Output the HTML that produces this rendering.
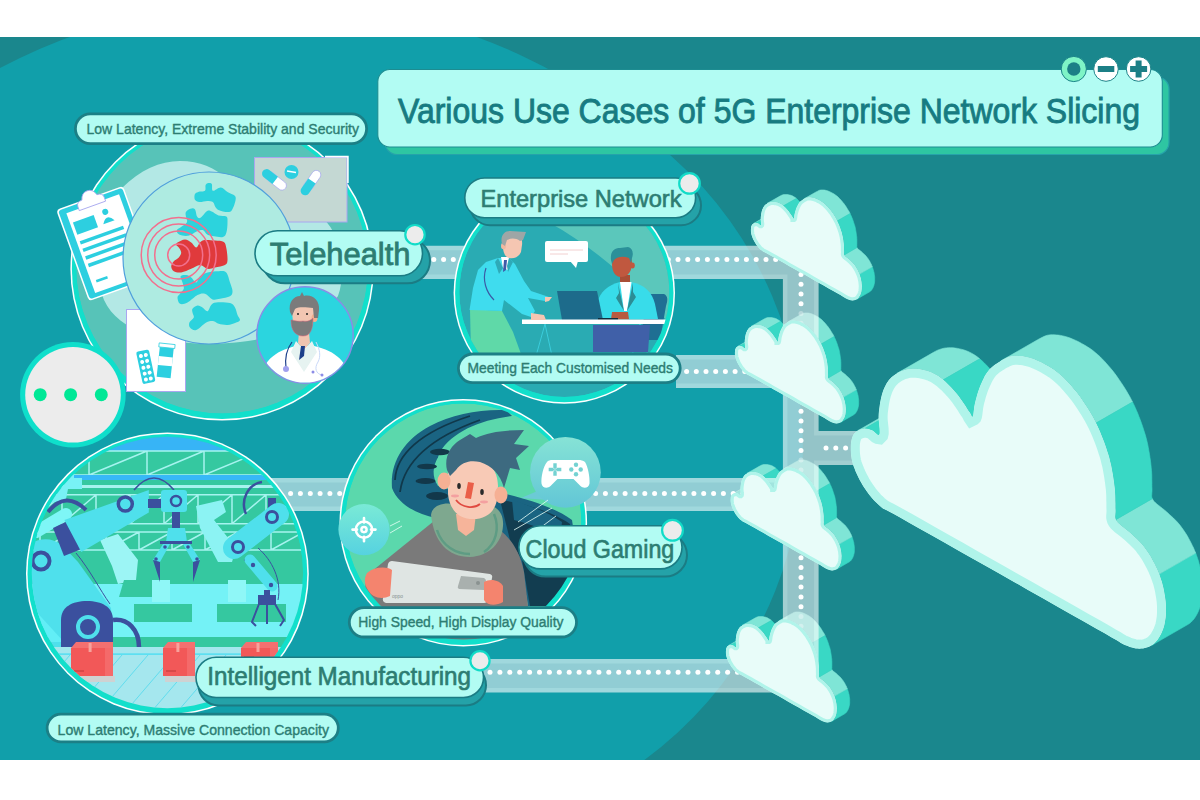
<!DOCTYPE html><html><head><meta charset="utf-8"><title>5G Enterprise Network Slicing</title>
<style>html,body{margin:0;padding:0;background:#fff;overflow:hidden}svg{display:block}text{font-family:"Liberation Sans",sans-serif}</style></head><body>
<svg width="1200" height="800" viewBox="0 0 1200 800">
<defs>
<clipPath id="kth"><circle cx="222.1" cy="267.6" r="145.9"/></clipPath>
<clipPath id="ken"><circle cx="564.3" cy="291.9" r="105.0"/></clipPath>
<clipPath id="kmf"><circle cx="167.4" cy="572.5" r="135.7"/></clipPath>
<clipPath id="kgm"><circle cx="463.3" cy="521.5" r="118.0"/></clipPath>
<linearGradient id="gb" x1="0" y1="0" x2="0" y2="1"><stop offset="0" stop-color="#86e3d6"/><stop offset="1" stop-color="#62c6d6"/></linearGradient>
<linearGradient id="gt" x1="0" y1="0" x2="0" y2="1"><stop offset="0" stop-color="#7aead6"/><stop offset="1" stop-color="#56d2e0"/></linearGradient>
</defs>
<rect x="0" y="37" width="1200" height="723" fill="#1a878d"/>
<path d="M-2 69 L0 68.1 A586.7 586.7 0 0 1 672 156.7 A388 388 0 0 1 644.4 760 L-2 760 Z" fill="#119faa"/>
<polygon fill="#7fe5d6" stroke="#7fe5d6" stroke-width="0.6" points="753.3,223.7 753.7,223.5 754.2,223.3 754.6,223.1 755.0,223.0 755.4,223.0 755.8,222.9 768.7,215.5 768.3,215.6 767.9,215.6 767.5,215.7 767.0,215.9 766.6,216.1 766.1,216.3"/>
<polygon fill="#39d8c5" stroke="#39d8c5" stroke-width="0.6" points="755.8,222.9 756.2,222.9 756.6,223.0 757.0,223.1 757.4,223.2 757.8,223.3 758.2,223.4 758.6,223.6 759.0,223.9 759.4,224.3 759.8,224.7 760.2,225.0 760.5,225.2 760.8,225.2 773.6,217.8 773.3,217.8 773.0,217.6 772.6,217.3 772.2,216.9 771.8,216.5 771.4,216.2 771.0,216.0 770.7,215.9 770.3,215.8 769.9,215.7 769.5,215.6 769.1,215.6 768.7,215.5"/>
<polygon fill="#7fe5d6" stroke="#7fe5d6" stroke-width="0.6" points="767.2,203.4 767.9,203.1 768.6,202.7 769.4,202.4 770.1,202.2 770.9,202.0 771.6,201.9 772.4,201.9 773.2,201.8 774.0,201.9 774.8,202.0 775.6,202.1 776.4,202.2 777.2,202.4 777.9,202.6 778.6,202.9 779.3,203.2 780.0,203.5 780.7,203.9 781.4,204.3 782.1,204.7 782.7,205.2 783.4,205.8 796.3,198.4 795.6,197.8 794.9,197.3 794.2,196.9 793.5,196.5 792.9,196.1 792.2,195.8 791.5,195.5 790.8,195.3 790.0,195.0 789.3,194.9 788.5,194.7 787.7,194.6 786.9,194.5 786.1,194.5 785.3,194.5 784.5,194.5 783.7,194.6 783.0,194.8 782.2,195.0 781.5,195.3 780.7,195.7 780.0,196.1"/>
<polygon fill="#39d8c5" stroke="#39d8c5" stroke-width="0.6" points="783.4,205.8 784.2,206.4 784.9,207.0 785.6,207.7 786.3,208.5 787.0,209.2 787.6,210.0 788.3,210.7 788.9,211.5 789.5,212.4 790.1,213.3 790.7,214.2 791.3,215.0 791.8,215.8 792.3,216.5 792.6,217.1 792.9,217.5 793.2,218.0 793.3,218.3 793.5,218.6 793.6,218.7 793.6,218.8 806.5,211.4 806.4,211.3 806.3,211.2 806.2,210.9 806.0,210.6 805.8,210.2 805.5,209.7 805.1,209.1 804.7,208.4 804.1,207.6 803.6,206.8 803.0,205.9 802.4,205.0 801.8,204.1 801.1,203.3 800.5,202.6 799.8,201.8 799.1,201.1 798.4,200.4 797.7,199.6 797.0,199.0 796.3,198.4"/>
<polygon fill="#7fe5d6" stroke="#7fe5d6" stroke-width="0.6" points="793.6,218.8 793.7,218.8 806.6,211.4 806.5,211.4"/>
<polygon fill="#39d8c5" stroke="#39d8c5" stroke-width="0.6" points="859.4,274.1 859.8,275.0 860.1,275.9 860.4,276.9 860.7,277.8 860.9,278.8 861.1,279.7 861.3,280.7 861.5,281.8 861.6,282.8 861.7,283.8 861.8,284.8 861.9,285.7 861.9,286.7 861.8,287.6 861.8,288.5 861.7,289.4 861.6,290.3 861.5,291.2 861.3,292.0 861.1,292.8 860.8,293.6 860.5,294.4 860.1,295.2 859.7,295.9 859.3,296.6 858.8,297.3 858.4,297.9 857.9,298.4 857.4,298.8 856.8,299.2 869.7,291.8 870.2,291.4 870.7,291.0 871.2,290.5 871.7,289.9 872.1,289.3 872.6,288.5 873.0,287.8 873.3,287.0 873.6,286.2 873.9,285.5 874.1,284.6 874.3,283.8 874.5,282.9 874.6,282.0 874.7,281.1 874.7,280.2 874.7,279.3 874.7,278.3 874.7,277.4 874.6,276.4 874.5,275.4 874.3,274.4 874.2,273.4 874.0,272.3 873.7,271.4 873.5,270.4 873.2,269.5 872.9,268.5 872.6,267.6 872.3,266.7"/>
<polygon fill="#7fe5d6" stroke="#7fe5d6" stroke-width="0.6" points="844.2,255.0 844.4,255.4 844.8,255.9 845.3,256.4 845.9,257.0 846.5,257.5 847.2,258.0 847.9,258.5 848.6,259.0 849.2,259.6 849.8,260.1 850.4,260.7 851.0,261.2 851.6,261.8 852.2,262.4 852.8,263.0 853.4,263.7 853.9,264.3 854.5,265.0 855.0,265.8 855.5,266.6 856.0,267.4 856.5,268.2 857.0,269.0 857.5,269.8 857.9,270.7 858.3,271.5 858.7,272.4 859.1,273.3 859.4,274.1 872.3,266.7 871.9,265.9 871.6,265.0 871.2,264.1 870.7,263.3 870.3,262.4 869.9,261.6 869.4,260.8 868.9,260.0 868.4,259.2 867.9,258.4 867.3,257.7 866.8,256.9 866.2,256.3 865.6,255.6 865.1,255.0 864.5,254.4 863.8,253.9 863.2,253.3 862.6,252.7 862.0,252.2 861.4,251.6 860.7,251.1 860.1,250.6 859.4,250.1 858.7,249.6 858.2,249.1 857.7,248.6 857.3,248.1 857.0,247.6"/>
<polygon fill="#7fe5d6" stroke="#7fe5d6" stroke-width="0.6" points="803.7,199.1 804.3,198.8 804.9,198.5 805.5,198.2 806.0,197.9 806.4,197.7 806.9,197.6 807.3,197.4 807.8,197.4 808.4,197.3 809.0,197.3 809.6,197.3 810.3,197.3 811.1,197.4 811.9,197.5 812.7,197.7 813.5,197.9 814.4,198.1 815.3,198.5 816.2,198.8 817.2,199.3 818.2,199.8 819.3,200.3 820.3,200.9 821.3,201.5 822.3,202.2 823.2,202.8 824.1,203.5 824.9,204.2 825.7,205.0 826.5,205.8 827.3,206.6 828.1,207.4 828.8,208.3 829.6,209.2 830.3,210.1 831.0,211.0 831.8,212.0 832.5,213.0 833.2,214.0 833.8,215.1 834.5,216.1 835.1,217.1 835.7,218.1 836.2,219.0 836.7,220.0 837.2,220.9 850.1,213.5 849.6,212.6 849.1,211.6 848.5,210.7 847.9,209.7 847.3,208.7 846.7,207.7 846.0,206.6 845.3,205.6 844.6,204.6 843.9,203.6 843.1,202.7 842.4,201.8 841.7,200.9 840.9,200.0 840.2,199.2 839.4,198.4 838.6,197.6 837.8,196.8 836.9,196.1 836.1,195.4 835.1,194.8 834.2,194.1 833.1,193.5 832.1,192.9 831.1,192.4 830.1,191.9 829.1,191.4 828.1,191.1 827.3,190.7 826.4,190.5 825.6,190.3 824.7,190.1 823.9,190.0 823.2,189.9 822.5,189.9 821.8,189.9 821.2,189.9 820.7,190.0 820.2,190.1 819.7,190.2 819.3,190.3 818.8,190.5 818.3,190.8 817.8,191.1 817.2,191.4 816.5,191.7"/>
<polygon fill="#39d8c5" stroke="#39d8c5" stroke-width="0.6" points="837.2,220.9 837.7,221.9 838.2,222.9 838.6,223.9 839.1,225.0 839.5,226.1 839.9,227.3 840.4,228.4 840.8,229.7 841.2,230.9 841.6,232.1 841.9,233.3 842.2,234.5 842.5,235.7 842.8,236.9 843.0,238.2 843.2,239.4 843.4,240.6 843.5,241.8 843.7,242.9 843.8,244.0 843.9,245.1 844.0,246.1 844.0,247.1 844.0,248.1 844.0,249.1 844.0,250.0 844.0,250.8 844.1,251.6 844.1,252.2 844.1,252.8 844.0,253.3 844.0,253.7 844.0,254.1 844.0,254.5 844.2,255.0 857.0,247.6 856.9,247.2 856.8,246.7 856.8,246.3 856.9,245.9 856.9,245.4 856.9,244.8 856.9,244.2 856.9,243.4 856.9,242.6 856.9,241.7 856.9,240.8 856.9,239.8 856.8,238.7 856.8,237.7 856.7,236.6 856.5,235.5 856.4,234.4 856.2,233.2 856.0,232.0 855.8,230.8 855.6,229.5 855.4,228.3 855.1,227.1 854.8,225.9 854.4,224.7 854.0,223.5 853.6,222.3 853.2,221.1 852.8,219.9 852.4,218.7 851.9,217.6 851.5,216.5 851.0,215.5 850.5,214.5 850.1,213.5"/>
<polygon fill="#7fe5d6" stroke="#7fe5d6" stroke-width="0.6" points="737.3,346.7 737.7,346.5 738.2,346.3 738.6,346.1 739.0,346.0 739.4,346.0 739.8,345.9 752.7,338.5 752.3,338.6 751.9,338.6 751.5,338.7 751.0,338.9 750.6,339.1 750.1,339.3"/>
<polygon fill="#39d8c5" stroke="#39d8c5" stroke-width="0.6" points="739.8,345.9 740.2,345.9 740.6,346.0 741.0,346.1 741.4,346.2 741.8,346.3 742.2,346.4 742.6,346.6 743.0,346.9 743.4,347.3 743.8,347.7 744.2,348.0 744.5,348.2 744.8,348.2 757.6,340.8 757.3,340.8 757.0,340.6 756.6,340.3 756.2,339.9 755.8,339.5 755.4,339.2 755.0,339.0 754.7,338.9 754.3,338.8 753.9,338.7 753.5,338.6 753.1,338.6 752.7,338.5"/>
<polygon fill="#7fe5d6" stroke="#7fe5d6" stroke-width="0.6" points="751.2,326.4 751.9,326.1 752.6,325.7 753.4,325.4 754.1,325.2 754.9,325.0 755.6,324.9 756.4,324.9 757.2,324.8 758.0,324.9 758.8,325.0 759.6,325.1 760.4,325.2 761.2,325.4 761.9,325.6 762.6,325.9 763.3,326.2 764.0,326.5 764.7,326.9 765.4,327.3 766.1,327.7 766.7,328.2 767.4,328.8 780.3,321.4 779.6,320.8 778.9,320.3 778.2,319.9 777.5,319.5 776.9,319.1 776.2,318.8 775.5,318.5 774.8,318.3 774.0,318.0 773.3,317.9 772.5,317.7 771.7,317.6 770.9,317.5 770.1,317.5 769.3,317.5 768.5,317.5 767.7,317.6 767.0,317.8 766.2,318.0 765.5,318.3 764.7,318.7 764.0,319.1"/>
<polygon fill="#39d8c5" stroke="#39d8c5" stroke-width="0.6" points="767.4,328.8 768.2,329.4 768.9,330.0 769.6,330.7 770.3,331.5 771.0,332.2 771.6,333.0 772.3,333.7 772.9,334.5 773.5,335.4 774.1,336.3 774.7,337.2 775.3,338.0 775.8,338.8 776.3,339.5 776.6,340.1 776.9,340.5 777.2,341.0 777.3,341.3 777.5,341.6 777.6,341.7 777.6,341.8 790.5,334.4 790.4,334.3 790.3,334.2 790.2,333.9 790.0,333.6 789.8,333.2 789.5,332.7 789.1,332.1 788.7,331.4 788.1,330.6 787.6,329.8 787.0,328.9 786.4,328.0 785.8,327.1 785.1,326.4 784.5,325.6 783.8,324.8 783.1,324.1 782.4,323.4 781.7,322.6 781.0,322.0 780.3,321.4"/>
<polygon fill="#7fe5d6" stroke="#7fe5d6" stroke-width="0.6" points="777.6,341.8 777.7,341.8 790.6,334.4 790.5,334.4"/>
<polygon fill="#39d8c5" stroke="#39d8c5" stroke-width="0.6" points="843.4,397.1 843.8,398.0 844.1,398.9 844.4,399.9 844.7,400.8 844.9,401.8 845.1,402.7 845.3,403.7 845.5,404.8 845.6,405.8 845.7,406.8 845.8,407.8 845.9,408.7 845.9,409.7 845.8,410.6 845.8,411.5 845.7,412.4 845.6,413.3 845.5,414.2 845.3,415.0 845.1,415.8 844.8,416.6 844.5,417.4 844.1,418.2 843.7,418.9 843.3,419.6 842.8,420.3 842.4,420.9 841.9,421.4 841.4,421.8 840.8,422.2 853.7,414.8 854.2,414.4 854.7,414.0 855.2,413.5 855.7,412.9 856.1,412.3 856.6,411.5 857.0,410.8 857.3,410.0 857.6,409.2 857.9,408.5 858.1,407.6 858.3,406.8 858.5,405.9 858.6,405.0 858.7,404.1 858.7,403.2 858.7,402.3 858.7,401.3 858.7,400.4 858.6,399.4 858.5,398.4 858.3,397.4 858.2,396.4 858.0,395.3 857.7,394.4 857.5,393.4 857.2,392.5 856.9,391.5 856.6,390.6 856.3,389.7"/>
<polygon fill="#7fe5d6" stroke="#7fe5d6" stroke-width="0.6" points="828.2,378.0 828.4,378.4 828.8,378.9 829.3,379.4 829.9,380.0 830.5,380.5 831.2,381.0 831.9,381.5 832.6,382.0 833.2,382.6 833.8,383.1 834.4,383.7 835.0,384.2 835.6,384.8 836.2,385.4 836.8,386.0 837.4,386.7 837.9,387.3 838.5,388.0 839.0,388.8 839.5,389.6 840.0,390.4 840.5,391.2 841.0,392.0 841.5,392.8 841.9,393.7 842.3,394.5 842.7,395.4 843.1,396.3 843.4,397.1 856.3,389.7 855.9,388.9 855.6,388.0 855.2,387.1 854.7,386.3 854.3,385.4 853.9,384.6 853.4,383.8 852.9,383.0 852.4,382.2 851.9,381.4 851.3,380.7 850.8,379.9 850.2,379.3 849.6,378.6 849.1,378.0 848.5,377.4 847.8,376.9 847.2,376.3 846.6,375.7 846.0,375.2 845.4,374.6 844.7,374.1 844.1,373.6 843.4,373.1 842.7,372.6 842.2,372.1 841.7,371.6 841.3,371.1 841.0,370.6"/>
<polygon fill="#7fe5d6" stroke="#7fe5d6" stroke-width="0.6" points="787.7,322.1 788.3,321.8 788.9,321.5 789.5,321.2 790.0,320.9 790.4,320.7 790.9,320.6 791.3,320.4 791.8,320.4 792.4,320.3 793.0,320.3 793.6,320.3 794.3,320.3 795.1,320.4 795.9,320.5 796.7,320.7 797.5,320.9 798.4,321.1 799.3,321.5 800.2,321.8 801.2,322.3 802.2,322.8 803.3,323.3 804.3,323.9 805.3,324.5 806.3,325.2 807.2,325.8 808.1,326.5 808.9,327.2 809.7,328.0 810.5,328.8 811.3,329.6 812.1,330.4 812.8,331.3 813.6,332.2 814.3,333.1 815.0,334.0 815.8,335.0 816.5,336.0 817.2,337.0 817.8,338.1 818.5,339.1 819.1,340.1 819.7,341.1 820.2,342.0 820.7,343.0 821.2,343.9 834.1,336.5 833.6,335.6 833.1,334.6 832.5,333.7 831.9,332.7 831.3,331.7 830.7,330.7 830.0,329.6 829.3,328.6 828.6,327.6 827.9,326.6 827.1,325.7 826.4,324.8 825.7,323.9 824.9,323.0 824.2,322.2 823.4,321.4 822.6,320.6 821.8,319.8 820.9,319.1 820.1,318.4 819.1,317.8 818.2,317.1 817.1,316.5 816.1,315.9 815.1,315.4 814.1,314.9 813.1,314.4 812.1,314.1 811.3,313.7 810.4,313.5 809.6,313.3 808.7,313.1 807.9,313.0 807.2,312.9 806.5,312.9 805.8,312.9 805.2,312.9 804.7,313.0 804.2,313.1 803.7,313.2 803.3,313.3 802.8,313.5 802.3,313.8 801.8,314.1 801.2,314.4 800.5,314.7"/>
<polygon fill="#39d8c5" stroke="#39d8c5" stroke-width="0.6" points="821.2,343.9 821.7,344.9 822.2,345.9 822.6,346.9 823.1,348.0 823.5,349.1 823.9,350.3 824.4,351.4 824.8,352.7 825.2,353.9 825.6,355.1 825.9,356.3 826.2,357.5 826.5,358.7 826.8,359.9 827.0,361.2 827.2,362.4 827.4,363.6 827.5,364.8 827.7,365.9 827.8,367.0 827.9,368.1 828.0,369.1 828.0,370.1 828.0,371.1 828.0,372.1 828.0,373.0 828.0,373.8 828.1,374.6 828.1,375.2 828.1,375.8 828.0,376.3 828.0,376.7 828.0,377.1 828.0,377.5 828.2,378.0 841.0,370.6 840.9,370.2 840.8,369.7 840.8,369.3 840.9,368.9 840.9,368.4 840.9,367.8 840.9,367.2 840.9,366.4 840.9,365.6 840.9,364.7 840.9,363.8 840.9,362.8 840.8,361.7 840.8,360.7 840.7,359.6 840.5,358.5 840.4,357.4 840.2,356.2 840.0,355.0 839.8,353.8 839.6,352.5 839.4,351.3 839.1,350.1 838.8,348.9 838.4,347.7 838.0,346.5 837.6,345.3 837.2,344.1 836.8,342.9 836.4,341.7 835.9,340.6 835.5,339.5 835.0,338.5 834.5,337.5 834.1,336.5"/>
<polygon fill="#7fe5d6" stroke="#7fe5d6" stroke-width="0.6" points="733.0,493.7 733.4,493.5 733.9,493.3 734.3,493.1 734.7,493.0 735.1,493.0 735.5,492.9 748.4,485.5 748.0,485.6 747.6,485.6 747.2,485.7 746.7,485.9 746.3,486.1 745.8,486.3"/>
<polygon fill="#39d8c5" stroke="#39d8c5" stroke-width="0.6" points="735.5,492.9 735.9,492.9 736.3,493.0 736.7,493.1 737.1,493.2 737.5,493.3 737.9,493.4 738.3,493.6 738.7,493.9 739.1,494.3 739.5,494.7 739.9,495.0 740.2,495.2 740.5,495.2 753.3,487.8 753.0,487.8 752.7,487.6 752.3,487.3 751.9,486.9 751.5,486.5 751.1,486.2 750.7,486.0 750.4,485.9 750.0,485.8 749.6,485.7 749.2,485.6 748.8,485.6 748.4,485.5"/>
<polygon fill="#7fe5d6" stroke="#7fe5d6" stroke-width="0.6" points="746.9,473.4 747.6,473.1 748.3,472.7 749.1,472.4 749.8,472.2 750.6,472.0 751.3,471.9 752.1,471.9 752.9,471.8 753.7,471.9 754.5,472.0 755.3,472.1 756.1,472.2 756.9,472.4 757.6,472.6 758.3,472.9 759.0,473.2 759.7,473.5 760.4,473.9 761.1,474.3 761.8,474.7 762.4,475.2 763.1,475.8 776.0,468.4 775.3,467.8 774.6,467.3 773.9,466.9 773.2,466.5 772.6,466.1 771.9,465.8 771.2,465.5 770.5,465.3 769.7,465.0 769.0,464.9 768.2,464.7 767.4,464.6 766.6,464.5 765.8,464.5 765.0,464.5 764.2,464.5 763.4,464.6 762.7,464.8 761.9,465.0 761.2,465.3 760.4,465.7 759.7,466.1"/>
<polygon fill="#39d8c5" stroke="#39d8c5" stroke-width="0.6" points="763.1,475.8 763.9,476.4 764.6,477.0 765.3,477.7 766.0,478.5 766.7,479.2 767.3,480.0 768.0,480.7 768.6,481.5 769.2,482.4 769.8,483.3 770.4,484.2 771.0,485.0 771.5,485.8 772.0,486.5 772.3,487.1 772.6,487.5 772.9,488.0 773.0,488.3 773.2,488.6 773.3,488.7 773.3,488.8 786.2,481.4 786.1,481.3 786.0,481.2 785.9,480.9 785.7,480.6 785.5,480.2 785.2,479.7 784.8,479.1 784.4,478.4 783.8,477.6 783.3,476.8 782.7,475.9 782.1,475.0 781.5,474.1 780.8,473.4 780.2,472.6 779.5,471.8 778.8,471.1 778.1,470.4 777.4,469.6 776.7,469.0 776.0,468.4"/>
<polygon fill="#7fe5d6" stroke="#7fe5d6" stroke-width="0.6" points="773.3,488.8 773.4,488.8 786.3,481.4 786.2,481.4"/>
<polygon fill="#39d8c5" stroke="#39d8c5" stroke-width="0.6" points="839.1,544.1 839.5,545.0 839.8,545.9 840.1,546.9 840.4,547.8 840.6,548.8 840.8,549.7 841.0,550.7 841.2,551.8 841.3,552.8 841.4,553.8 841.5,554.8 841.6,555.7 841.6,556.7 841.5,557.6 841.5,558.5 841.4,559.4 841.3,560.3 841.2,561.2 841.0,562.0 840.8,562.8 840.5,563.6 840.2,564.4 839.8,565.2 839.4,565.9 839.0,566.6 838.5,567.3 838.1,567.9 837.6,568.4 837.1,568.8 836.5,569.2 849.4,561.8 849.9,561.4 850.4,561.0 850.9,560.5 851.4,559.9 851.8,559.3 852.3,558.5 852.7,557.8 853.0,557.0 853.3,556.2 853.6,555.5 853.8,554.6 854.0,553.8 854.2,552.9 854.3,552.0 854.4,551.1 854.4,550.2 854.4,549.3 854.4,548.3 854.4,547.4 854.3,546.4 854.2,545.4 854.0,544.4 853.9,543.4 853.7,542.3 853.4,541.4 853.2,540.4 852.9,539.5 852.6,538.5 852.3,537.6 852.0,536.7"/>
<polygon fill="#7fe5d6" stroke="#7fe5d6" stroke-width="0.6" points="823.9,525.0 824.1,525.4 824.5,525.9 825.0,526.4 825.6,527.0 826.2,527.5 826.9,528.0 827.6,528.5 828.3,529.0 828.9,529.6 829.5,530.1 830.1,530.7 830.7,531.2 831.3,531.8 831.9,532.4 832.5,533.0 833.1,533.7 833.6,534.3 834.2,535.0 834.7,535.8 835.2,536.6 835.7,537.4 836.2,538.2 836.7,539.0 837.2,539.8 837.6,540.7 838.0,541.5 838.4,542.4 838.8,543.3 839.1,544.1 852.0,536.7 851.6,535.9 851.3,535.0 850.9,534.1 850.4,533.3 850.0,532.4 849.6,531.6 849.1,530.8 848.6,530.0 848.1,529.2 847.6,528.4 847.0,527.7 846.5,526.9 845.9,526.3 845.3,525.6 844.8,525.0 844.2,524.4 843.5,523.9 842.9,523.3 842.3,522.7 841.7,522.2 841.1,521.6 840.4,521.1 839.8,520.6 839.1,520.1 838.4,519.6 837.9,519.1 837.4,518.6 837.0,518.1 836.7,517.6"/>
<polygon fill="#7fe5d6" stroke="#7fe5d6" stroke-width="0.6" points="783.4,469.1 784.0,468.8 784.6,468.5 785.2,468.2 785.7,467.9 786.1,467.7 786.6,467.6 787.0,467.4 787.5,467.4 788.1,467.3 788.7,467.3 789.3,467.3 790.0,467.3 790.8,467.4 791.6,467.5 792.4,467.7 793.2,467.9 794.1,468.1 795.0,468.5 795.9,468.8 796.9,469.3 797.9,469.8 799.0,470.3 800.0,470.9 801.0,471.5 802.0,472.2 802.9,472.8 803.8,473.5 804.6,474.2 805.4,475.0 806.2,475.8 807.0,476.6 807.8,477.4 808.5,478.3 809.3,479.2 810.0,480.1 810.7,481.0 811.5,482.0 812.2,483.0 812.9,484.0 813.5,485.1 814.2,486.1 814.8,487.1 815.4,488.1 815.9,489.0 816.4,490.0 816.9,490.9 829.8,483.5 829.3,482.6 828.8,481.6 828.2,480.7 827.6,479.7 827.0,478.7 826.4,477.7 825.7,476.6 825.0,475.6 824.3,474.6 823.6,473.6 822.8,472.7 822.1,471.8 821.4,470.9 820.6,470.0 819.9,469.2 819.1,468.4 818.3,467.6 817.5,466.8 816.6,466.1 815.8,465.4 814.8,464.8 813.9,464.1 812.8,463.5 811.8,462.9 810.8,462.4 809.8,461.9 808.8,461.4 807.8,461.1 807.0,460.7 806.1,460.5 805.3,460.3 804.4,460.1 803.6,460.0 802.9,459.9 802.2,459.9 801.5,459.9 800.9,459.9 800.4,460.0 799.9,460.1 799.4,460.2 799.0,460.3 798.5,460.5 798.0,460.8 797.5,461.1 796.9,461.4 796.2,461.7"/>
<polygon fill="#39d8c5" stroke="#39d8c5" stroke-width="0.6" points="816.9,490.9 817.4,491.9 817.9,492.9 818.3,493.9 818.8,495.0 819.2,496.1 819.6,497.3 820.1,498.4 820.5,499.7 820.9,500.9 821.3,502.1 821.6,503.3 821.9,504.5 822.2,505.7 822.5,506.9 822.7,508.2 822.9,509.4 823.1,510.6 823.2,511.8 823.4,512.9 823.5,514.0 823.6,515.1 823.7,516.1 823.7,517.1 823.7,518.1 823.7,519.1 823.7,520.0 823.7,520.8 823.8,521.6 823.8,522.2 823.8,522.8 823.7,523.3 823.7,523.7 823.7,524.1 823.7,524.5 823.9,525.0 836.7,517.6 836.6,517.2 836.5,516.7 836.5,516.3 836.6,515.9 836.6,515.4 836.6,514.8 836.6,514.2 836.6,513.4 836.6,512.6 836.6,511.7 836.6,510.7 836.6,509.8 836.5,508.7 836.5,507.7 836.4,506.6 836.2,505.5 836.1,504.4 835.9,503.2 835.7,502.0 835.5,500.8 835.3,499.5 835.1,498.3 834.8,497.1 834.5,495.9 834.1,494.7 833.7,493.5 833.3,492.3 832.9,491.1 832.5,489.9 832.1,488.7 831.6,487.6 831.2,486.5 830.7,485.5 830.2,484.5 829.8,483.5"/>
<polygon fill="#7fe5d6" stroke="#7fe5d6" stroke-width="0.6" points="728.3,645.7 728.7,645.5 729.2,645.3 729.6,645.1 730.0,645.0 730.4,645.0 730.8,644.9 743.7,637.5 743.3,637.6 742.9,637.6 742.5,637.7 742.0,637.9 741.6,638.1 741.1,638.3"/>
<polygon fill="#39d8c5" stroke="#39d8c5" stroke-width="0.6" points="730.8,644.9 731.2,644.9 731.6,645.0 732.0,645.1 732.4,645.2 732.8,645.3 733.2,645.4 733.6,645.6 734.0,645.9 734.4,646.3 734.8,646.7 735.2,647.0 735.5,647.2 735.8,647.2 748.6,639.8 748.3,639.8 748.0,639.6 747.6,639.3 747.2,638.9 746.8,638.5 746.4,638.2 746.0,638.0 745.7,637.9 745.3,637.8 744.9,637.7 744.5,637.6 744.1,637.6 743.7,637.5"/>
<polygon fill="#7fe5d6" stroke="#7fe5d6" stroke-width="0.6" points="742.2,625.4 742.9,625.1 743.6,624.7 744.4,624.4 745.1,624.2 745.9,624.0 746.6,623.9 747.4,623.9 748.2,623.8 749.0,623.9 749.8,624.0 750.6,624.1 751.4,624.2 752.2,624.4 752.9,624.6 753.6,624.9 754.3,625.2 755.0,625.5 755.7,625.9 756.4,626.3 757.1,626.7 757.7,627.2 758.4,627.8 771.3,620.4 770.6,619.8 769.9,619.3 769.2,618.9 768.5,618.5 767.9,618.1 767.2,617.8 766.5,617.5 765.8,617.3 765.0,617.0 764.3,616.9 763.5,616.7 762.7,616.6 761.9,616.5 761.1,616.5 760.3,616.5 759.5,616.5 758.7,616.6 758.0,616.8 757.2,617.0 756.5,617.3 755.7,617.7 755.0,618.1"/>
<polygon fill="#39d8c5" stroke="#39d8c5" stroke-width="0.6" points="758.4,627.8 759.2,628.4 759.9,629.0 760.6,629.7 761.3,630.5 762.0,631.2 762.6,632.0 763.3,632.7 763.9,633.5 764.5,634.4 765.1,635.3 765.7,636.2 766.3,637.0 766.8,637.8 767.3,638.5 767.6,639.1 767.9,639.5 768.2,640.0 768.3,640.3 768.5,640.6 768.6,640.7 768.6,640.8 781.5,633.4 781.4,633.3 781.3,633.2 781.2,632.9 781.0,632.6 780.8,632.2 780.5,631.7 780.1,631.1 779.7,630.4 779.1,629.6 778.6,628.8 778.0,627.9 777.4,627.0 776.8,626.1 776.1,625.3 775.5,624.6 774.8,623.8 774.1,623.1 773.4,622.4 772.7,621.6 772.0,621.0 771.3,620.4"/>
<polygon fill="#7fe5d6" stroke="#7fe5d6" stroke-width="0.6" points="768.6,640.8 768.7,640.8 781.6,633.4 781.5,633.4"/>
<polygon fill="#39d8c5" stroke="#39d8c5" stroke-width="0.6" points="834.4,696.1 834.8,697.0 835.1,697.9 835.4,698.9 835.7,699.8 835.9,700.8 836.1,701.7 836.3,702.7 836.5,703.8 836.6,704.8 836.7,705.8 836.8,706.8 836.9,707.7 836.9,708.7 836.8,709.6 836.8,710.5 836.7,711.4 836.6,712.3 836.5,713.2 836.3,714.0 836.1,714.8 835.8,715.6 835.5,716.4 835.1,717.2 834.7,717.9 834.3,718.6 833.8,719.3 833.4,719.9 832.9,720.4 832.4,720.8 831.8,721.2 844.7,713.8 845.2,713.4 845.7,713.0 846.2,712.5 846.7,711.9 847.1,711.3 847.6,710.5 848.0,709.8 848.3,709.0 848.6,708.2 848.9,707.5 849.1,706.6 849.3,705.8 849.5,704.9 849.6,704.0 849.7,703.1 849.7,702.2 849.7,701.3 849.7,700.3 849.7,699.4 849.6,698.4 849.5,697.4 849.3,696.4 849.2,695.4 849.0,694.3 848.7,693.4 848.5,692.4 848.2,691.5 847.9,690.5 847.6,689.6 847.3,688.7"/>
<polygon fill="#7fe5d6" stroke="#7fe5d6" stroke-width="0.6" points="819.2,677.0 819.4,677.4 819.8,677.9 820.3,678.4 820.9,679.0 821.5,679.5 822.2,680.0 822.9,680.5 823.6,681.0 824.2,681.6 824.8,682.1 825.4,682.7 826.0,683.2 826.6,683.8 827.2,684.4 827.8,685.0 828.4,685.7 828.9,686.3 829.5,687.0 830.0,687.8 830.5,688.6 831.0,689.4 831.5,690.2 832.0,691.0 832.5,691.8 832.9,692.7 833.3,693.5 833.7,694.4 834.1,695.3 834.4,696.1 847.3,688.7 846.9,687.9 846.6,687.0 846.2,686.1 845.7,685.3 845.3,684.4 844.9,683.6 844.4,682.8 843.9,682.0 843.4,681.2 842.9,680.4 842.3,679.7 841.8,678.9 841.2,678.3 840.6,677.6 840.1,677.0 839.5,676.4 838.8,675.9 838.2,675.3 837.6,674.7 837.0,674.2 836.4,673.6 835.7,673.1 835.1,672.6 834.4,672.1 833.7,671.6 833.2,671.1 832.7,670.6 832.3,670.1 832.0,669.6"/>
<polygon fill="#7fe5d6" stroke="#7fe5d6" stroke-width="0.6" points="778.7,621.1 779.3,620.8 779.9,620.5 780.5,620.2 781.0,619.9 781.4,619.7 781.9,619.6 782.3,619.4 782.8,619.4 783.4,619.3 784.0,619.3 784.6,619.3 785.3,619.3 786.1,619.4 786.9,619.5 787.7,619.7 788.5,619.9 789.4,620.1 790.3,620.5 791.2,620.8 792.2,621.3 793.2,621.8 794.3,622.3 795.3,622.9 796.3,623.5 797.3,624.2 798.2,624.8 799.1,625.5 799.9,626.2 800.7,627.0 801.5,627.8 802.3,628.6 803.1,629.4 803.8,630.3 804.6,631.2 805.3,632.1 806.0,633.0 806.8,634.0 807.5,635.0 808.2,636.0 808.8,637.1 809.5,638.1 810.1,639.1 810.7,640.1 811.2,641.0 811.7,642.0 812.2,642.9 825.1,635.5 824.6,634.6 824.1,633.6 823.5,632.7 822.9,631.7 822.3,630.7 821.7,629.7 821.0,628.6 820.3,627.6 819.6,626.6 818.9,625.6 818.1,624.7 817.4,623.8 816.7,622.9 815.9,622.0 815.2,621.2 814.4,620.4 813.6,619.6 812.8,618.8 811.9,618.1 811.1,617.4 810.1,616.8 809.2,616.1 808.1,615.5 807.1,614.9 806.1,614.4 805.1,613.9 804.1,613.4 803.1,613.1 802.3,612.7 801.4,612.5 800.6,612.3 799.7,612.1 798.9,612.0 798.2,611.9 797.5,611.9 796.8,611.9 796.2,611.9 795.7,612.0 795.2,612.1 794.7,612.2 794.3,612.3 793.8,612.5 793.3,612.8 792.8,613.1 792.2,613.4 791.5,613.7"/>
<polygon fill="#39d8c5" stroke="#39d8c5" stroke-width="0.6" points="812.2,642.9 812.7,643.9 813.2,644.9 813.6,645.9 814.1,647.0 814.5,648.1 814.9,649.3 815.4,650.4 815.8,651.7 816.2,652.9 816.6,654.1 816.9,655.3 817.2,656.5 817.5,657.7 817.8,658.9 818.0,660.2 818.2,661.4 818.4,662.6 818.5,663.8 818.7,664.9 818.8,666.0 818.9,667.1 819.0,668.1 819.0,669.1 819.0,670.1 819.0,671.1 819.0,672.0 819.0,672.8 819.1,673.6 819.1,674.2 819.1,674.8 819.0,675.3 819.0,675.7 819.0,676.1 819.0,676.5 819.2,677.0 832.0,669.6 831.9,669.2 831.8,668.7 831.8,668.3 831.9,667.9 831.9,667.4 831.9,666.8 831.9,666.2 831.9,665.4 831.9,664.6 831.9,663.7 831.9,662.7 831.9,661.8 831.8,660.7 831.8,659.7 831.7,658.6 831.5,657.5 831.4,656.4 831.2,655.2 831.0,654.0 830.8,652.8 830.6,651.5 830.4,650.3 830.1,649.1 829.8,647.9 829.4,646.7 829.0,645.5 828.6,644.3 828.2,643.1 827.8,641.9 827.4,640.7 826.9,639.6 826.5,638.5 826.0,637.5 825.5,636.5 825.1,635.5"/>
<g opacity="0.6"><path d="M400.0 245.8H819.0V278.9H400.0ZM782.9 245.8H818.6V692.0H782.9ZM676.0 355.0H783.0V388.0H676.0ZM818.0 431.0H885.0V465.0H818.0ZM250.0 478.0H790.0V511.0H250.0ZM470.0 659.0H790.0V692.5H470.0Z" fill="#ffffff"/><path d="M400.0 250.3H814.1V274.4H400.0ZM787.4 250.3H814.1V692.0H787.4ZM676.0 359.5H787.4V383.5H676.0ZM814.0 435.5H885.0V460.5H814.0ZM250.0 482.5H790.0V506.5H250.0ZM470.0 663.5H790.0V688.0H470.0Z" fill="#e6edf0"/></g>
<g fill="#ffffff"><circle cx="433.8" cy="259.6" r="2.5"/><circle cx="443.6" cy="259.6" r="2.5"/><circle cx="453.3" cy="259.6" r="2.5"/><circle cx="463.1" cy="259.6" r="2.5"/><circle cx="472.9" cy="259.6" r="2.5"/><circle cx="482.6" cy="259.6" r="2.5"/><circle cx="492.4" cy="259.6" r="2.5"/><circle cx="502.2" cy="259.6" r="2.5"/><circle cx="512.0" cy="259.6" r="2.5"/><circle cx="521.7" cy="259.6" r="2.5"/><circle cx="531.5" cy="259.6" r="2.5"/><circle cx="541.3" cy="259.6" r="2.5"/><circle cx="551.0" cy="259.6" r="2.5"/><circle cx="560.8" cy="259.6" r="2.5"/><circle cx="570.6" cy="259.6" r="2.5"/><circle cx="580.3" cy="259.6" r="2.5"/><circle cx="590.1" cy="259.6" r="2.5"/><circle cx="599.9" cy="259.6" r="2.5"/><circle cx="609.7" cy="259.6" r="2.5"/><circle cx="619.4" cy="259.6" r="2.5"/><circle cx="629.2" cy="259.6" r="2.5"/><circle cx="639.0" cy="259.6" r="2.5"/><circle cx="648.7" cy="259.6" r="2.5"/><circle cx="658.5" cy="259.6" r="2.5"/><circle cx="668.3" cy="259.6" r="2.5"/><circle cx="678.0" cy="259.6" r="2.5"/><circle cx="687.8" cy="259.6" r="2.5"/><circle cx="697.6" cy="259.6" r="2.5"/><circle cx="707.4" cy="259.6" r="2.5"/><circle cx="717.1" cy="259.6" r="2.5"/><circle cx="726.9" cy="259.6" r="2.5"/><circle cx="736.7" cy="259.6" r="2.5"/><circle cx="746.4" cy="259.6" r="2.5"/><circle cx="756.2" cy="259.6" r="2.5"/><circle cx="766.0" cy="259.6" r="2.5"/><circle cx="775.7" cy="259.6" r="2.5"/><circle cx="785.5" cy="259.6" r="2.5"/><circle cx="801.0" cy="274.5" r="2.5"/><circle cx="801.0" cy="284.3" r="2.5"/><circle cx="801.0" cy="294.0" r="2.5"/><circle cx="801.0" cy="303.8" r="2.5"/><circle cx="801.0" cy="313.6" r="2.5" opacity="0.35"/><circle cx="801.0" cy="323.3" r="2.5" opacity="0.35"/><circle cx="801.0" cy="333.1" r="2.5"/><circle cx="801.0" cy="342.9" r="2.5"/><circle cx="801.0" cy="352.7" r="2.5"/><circle cx="801.0" cy="362.4" r="2.5"/><circle cx="801.0" cy="372.2" r="2.5"/><circle cx="801.0" cy="382.0" r="2.5"/><circle cx="801.0" cy="391.7" r="2.5"/><circle cx="801.0" cy="401.5" r="2.5"/><circle cx="801.0" cy="411.3" r="2.5"/><circle cx="801.0" cy="421.0" r="2.5"/><circle cx="801.0" cy="430.8" r="2.5"/><circle cx="801.0" cy="440.6" r="2.5"/><circle cx="801.0" cy="450.4" r="2.5"/><circle cx="801.0" cy="460.1" r="2.5" opacity="0.35"/><circle cx="801.0" cy="469.9" r="2.5" opacity="0.35"/><circle cx="801.0" cy="479.7" r="2.5"/><circle cx="801.0" cy="489.4" r="2.5"/><circle cx="801.0" cy="499.2" r="2.5"/><circle cx="801.0" cy="509.0" r="2.5"/><circle cx="801.0" cy="518.7" r="2.5"/><circle cx="801.0" cy="528.5" r="2.5"/><circle cx="801.0" cy="538.3" r="2.5"/><circle cx="801.0" cy="548.1" r="2.5"/><circle cx="801.0" cy="557.8" r="2.5"/><circle cx="801.0" cy="567.6" r="2.5"/><circle cx="801.0" cy="577.4" r="2.5"/><circle cx="801.0" cy="587.1" r="2.5"/><circle cx="801.0" cy="596.9" r="2.5"/><circle cx="801.0" cy="606.7" r="2.5"/><circle cx="801.0" cy="616.4" r="2.5" opacity="0.35"/><circle cx="801.0" cy="626.2" r="2.5" opacity="0.35"/><circle cx="801.0" cy="636.0" r="2.5" opacity="0.35"/><circle cx="686.6" cy="371.6" r="2.5"/><circle cx="696.3" cy="371.6" r="2.5"/><circle cx="706.0" cy="371.6" r="2.5"/><circle cx="715.7" cy="371.6" r="2.5"/><circle cx="725.4" cy="371.6" r="2.5"/><circle cx="735.1" cy="371.6" r="2.5"/><circle cx="744.8" cy="371.6" r="2.5"/><circle cx="754.5" cy="371.6" r="2.5"/><circle cx="764.2" cy="371.6" r="2.5"/><circle cx="773.9" cy="371.6" r="2.5"/><circle cx="826.0" cy="448.0" r="2.5"/><circle cx="835.8" cy="448.0" r="2.5"/><circle cx="845.6" cy="448.0" r="2.5"/><circle cx="855.4" cy="448.0" r="2.5"/><circle cx="865.2" cy="448.0" r="2.5"/><circle cx="290.6" cy="493.4" r="2.5"/><circle cx="300.4" cy="493.4" r="2.5"/><circle cx="310.3" cy="493.4" r="2.5"/><circle cx="320.1" cy="493.4" r="2.5"/><circle cx="329.9" cy="493.4" r="2.5"/><circle cx="339.7" cy="493.4" r="2.5"/><circle cx="595.6" cy="493.4" r="2.5"/><circle cx="605.4" cy="493.4" r="2.5"/><circle cx="615.3" cy="493.4" r="2.5"/><circle cx="625.1" cy="493.4" r="2.5"/><circle cx="634.9" cy="493.4" r="2.5"/><circle cx="644.8" cy="493.4" r="2.5"/><circle cx="654.6" cy="493.4" r="2.5"/><circle cx="664.4" cy="493.4" r="2.5"/><circle cx="674.2" cy="493.4" r="2.5"/><circle cx="684.1" cy="493.4" r="2.5"/><circle cx="693.9" cy="493.4" r="2.5"/><circle cx="703.7" cy="493.4" r="2.5"/><circle cx="713.6" cy="493.4" r="2.5"/><circle cx="723.4" cy="493.4" r="2.5"/><circle cx="733.2" cy="493.4" r="2.5"/><circle cx="743.1" cy="493.4" r="2.5"/><circle cx="490.0" cy="672.2" r="2.5"/><circle cx="499.9" cy="672.2" r="2.5"/><circle cx="509.8" cy="672.2" r="2.5"/><circle cx="519.7" cy="672.2" r="2.5"/><circle cx="529.6" cy="672.2" r="2.5"/><circle cx="539.5" cy="672.2" r="2.5"/><circle cx="549.4" cy="672.2" r="2.5"/><circle cx="559.3" cy="672.2" r="2.5"/><circle cx="569.2" cy="672.2" r="2.5"/><circle cx="579.1" cy="672.2" r="2.5"/><circle cx="589.0" cy="672.2" r="2.5"/><circle cx="598.9" cy="672.2" r="2.5"/><circle cx="608.8" cy="672.2" r="2.5"/><circle cx="618.7" cy="672.2" r="2.5"/><circle cx="628.6" cy="672.2" r="2.5"/><circle cx="638.5" cy="672.2" r="2.5"/><circle cx="648.4" cy="672.2" r="2.5"/><circle cx="658.3" cy="672.2" r="2.5"/><circle cx="668.2" cy="672.2" r="2.5"/><circle cx="678.1" cy="672.2" r="2.5"/><circle cx="688.0" cy="672.2" r="2.5"/><circle cx="697.9" cy="672.2" r="2.5"/><circle cx="707.8" cy="672.2" r="2.5"/><circle cx="717.7" cy="672.2" r="2.5"/><circle cx="727.6" cy="672.2" r="2.5"/><circle cx="737.5" cy="672.2" r="2.5"/><circle cx="747.4" cy="672.2" r="2.5"/><circle cx="757.3" cy="672.2" r="2.5"/><circle cx="767.2" cy="672.2" r="2.5"/></g>
<circle cx="222.1" cy="268.9" r="151.7" fill="#ffffff"/>
<circle cx="222.1" cy="268.9" r="150.2" fill="#12dfcb"/>
<g clip-path="url(#kth)">
<circle cx="222.1" cy="267.6" r="145.9" fill="#57c3b8"/>
<path d="M104 300 C92 270 96 215 122 188 C140 170 160 161 180 161 C200 161 215 168 226 178 L300 205 C318 212 330 222 336 238 C343 256 344 280 338 296 C320 322 280 338 240 342 C190 348 122 340 104 300Z" fill="#b3e8e5"/>
</g>
<g transform="translate(58.1,210.8) rotate(-19.8)"><rect x="-1.5" y="-1.5" width="71" height="97" rx="4" fill="#ffffff"/><rect x="0" y="0" width="68" height="94" rx="3" fill="#2dcfe0"/><rect x="7" y="5" width="56" height="85" fill="#ffffff"/><rect x="10" y="16" width="22" height="13" fill="#2dcfe0"/><circle cx="44" cy="17" r="3" fill="#2dcfe0"/><path d="M38 28 Q44 18 50 28Z" fill="#2dcfe0"/><rect x="10" y="36" width="46" height="3.5" fill="#2dcfe0"/><rect x="10" y="44" width="46" height="3.5" fill="#2dcfe0"/><rect x="10" y="52" width="46" height="3.5" fill="#2dcfe0"/><rect x="10" y="60" width="40" height="3.5" fill="#2dcfe0"/><rect x="12" y="78" width="12" height="2.5" fill="#2dcfe0"/><path d="M20 3 Q20 -2 26 -2 Q28 -9 34 -9 Q40 -9 42 -2 Q48 -2 48 3 L48 7 L20 7Z" fill="#ffffff" stroke="#a3a3ee" stroke-width="0.8"/></g>
<rect x="126.5" y="309.5" width="59" height="82" fill="#ffffff" stroke="#aaa6f0" stroke-width="1"/>
<g transform="translate(136,352) rotate(-12)"><rect x="0" y="0" width="13" height="33" rx="2" fill="#2dcfe0"/><circle cx="4" cy="5" r="2" fill="#fff"/><circle cx="4" cy="11" r="2" fill="#fff"/><circle cx="4" cy="17" r="2" fill="#fff"/><circle cx="4" cy="23" r="2" fill="#fff"/><circle cx="4" cy="29" r="2" fill="#fff"/><circle cx="9" cy="5" r="2" fill="#fff"/><circle cx="9" cy="11" r="2" fill="#fff"/><circle cx="9" cy="17" r="2" fill="#fff"/><circle cx="9" cy="23" r="2" fill="#fff"/><circle cx="9" cy="29" r="2" fill="#fff"/></g>
<g transform="translate(160,345) rotate(6)"><rect x="0" y="0" width="14" height="32" fill="#2dcfe0"/><rect x="0" y="11" width="14" height="9" fill="#fff"/><rect x="-1" y="-2" width="16" height="4" fill="#fff" stroke="#2dcfe0" stroke-width="0.8"/></g>
<rect x="254.5" y="157.5" width="92.5" height="64.5" fill="#c4d8d3" stroke="#aaa6f0" stroke-width="1"/>
<path d="M325 156.6 H347.9 V183" stroke="#ffffff" stroke-width="1.6" fill="none"/>
<g transform="translate(276,181) rotate(38)"><rect x="-12" y="-4.5" width="24" height="9" rx="4.5" fill="#ffffff" stroke="#9f9ff0" stroke-width="0.6"/><path d="M-12 -4.5 h11 v9 h-11 a4.5 4.5 0 0 1 0 -9z" fill="#2dcfe0"/></g>
<g transform="translate(312,181) rotate(-55)"><rect x="-12" y="-4.5" width="24" height="9" rx="4.5" fill="#ffffff" stroke="#9f9ff0" stroke-width="0.6"/><path d="M-12 -4.5 h12 v9 h-12 a4.5 4.5 0 0 1 0 -9z" fill="#2dcfe0"/></g>
<circle cx="291.5" cy="172" r="7" fill="#2dcfe0"/><path d="M287 171 L296 172.5" stroke="#fff" stroke-width="1.3"/>
<circle cx="209" cy="258" r="86" fill="#aeebe1" stroke="#4f9fdc" stroke-width="1.2"/>
<path d="M194.9 194.1 C195.5 192.8 196.6 192.5 198.2 191.9 C199.9 191.3 203.8 191.9 205.0 190.8 C206.2 189.6 205.0 186.4 205.6 185.1 C206.2 183.8 207.4 183.3 208.4 183.1 C209.4 182.9 211.0 182.7 211.8 184.0 C212.5 185.3 211.4 190.2 212.9 190.8 C214.4 191.3 218.3 187.2 220.8 187.4 C223.2 187.6 225.2 190.5 227.5 191.9 C229.8 193.3 233.5 194.3 234.8 195.8 C236.1 197.3 235.9 198.6 235.4 200.9 C234.9 203.2 233.3 208.0 232.0 209.9 C230.7 211.8 229.8 212.1 227.5 212.1 C225.2 212.1 220.6 210.8 218.5 209.9 C216.4 209.0 216.0 207.8 215.1 206.5 C214.2 205.2 214.2 202.9 212.9 202.0 C211.6 201.1 209.5 200.9 207.2 200.9 C205.0 200.9 201.5 202.2 199.4 202.0 C197.3 201.8 195.7 201.1 194.9 199.8 C194.2 198.4 194.3 195.4 194.9 194.1Z" fill="#2cd3dd"/>
<path d="M185.9 212.1 C186.7 210.8 188.9 209.2 190.4 208.8 C191.9 208.3 193.8 208.0 194.9 209.3 C196.0 210.6 196.2 215.2 197.1 216.6 C198.0 218.0 198.8 218.7 200.5 217.8 C202.2 216.8 205.4 212.0 207.2 211.0 C209.1 210.0 209.9 210.8 211.8 211.6 C213.6 212.3 216.1 214.7 218.5 215.5 C220.9 216.3 224.9 215.5 226.4 216.6 C227.9 217.7 227.5 219.6 227.5 222.2 C227.5 224.9 227.2 230.0 226.4 232.4 C225.7 234.8 225.1 236.2 223.0 236.9 C220.9 237.6 216.6 236.7 214.0 236.3 C211.4 235.9 209.1 235.6 207.2 234.6 C205.4 233.6 204.4 230.7 202.8 230.1 C201.1 229.5 199.5 230.3 197.1 231.2 C194.7 232.2 191.1 235.2 188.1 235.8 C185.1 236.3 181.0 235.5 179.1 234.6 C177.2 233.7 176.5 231.4 176.9 230.1 C177.3 228.8 179.7 228.1 181.4 226.8 C183.1 225.4 186.2 223.9 187.0 222.2 C187.8 220.6 186.1 218.3 185.9 216.6 C185.7 214.9 185.2 213.4 185.9 212.1Z" fill="#2cd3dd"/>
<path d="M180.6 276.2 C181.2 275.0 184.5 274.8 186.2 275.0 C188.0 275.2 189.6 276.2 191.2 277.5 C192.9 278.8 194.8 282.7 196.2 282.5 C197.7 282.3 198.1 277.9 200.0 276.2 C201.9 274.6 204.4 273.3 207.5 272.5 C210.6 271.7 215.6 271.2 218.8 271.2 C221.9 271.2 224.4 270.6 226.2 272.5 C228.1 274.4 229.0 279.4 230.0 282.5 C231.0 285.6 232.5 289.0 232.5 291.2 C232.5 293.5 232.1 295.0 230.0 296.2 C227.9 297.5 222.9 298.2 220.0 298.8 C217.1 299.3 215.0 300.2 212.5 299.4 C210.0 298.6 207.5 294.5 205.0 293.8 C202.5 293.0 200.4 293.5 197.5 295.0 C194.6 296.5 190.4 301.0 187.5 302.5 C184.6 304.0 181.7 304.6 180.0 303.8 C178.3 302.9 177.5 299.2 177.5 297.5 C177.5 295.8 179.0 295.2 180.0 293.8 C181.0 292.3 183.3 290.6 183.8 288.8 C184.2 286.9 183.0 284.6 182.5 282.5 C182.0 280.4 180.0 277.5 180.6 276.2Z" fill="#2cd3dd"/>
<path d="M192.5 308.8 C193.3 307.6 195.8 305.8 197.5 305.6 C199.2 305.4 200.8 306.6 202.5 307.5 C204.2 308.4 206.0 311.7 207.5 311.2 C209.0 310.8 209.8 306.5 211.2 305.0 C212.7 303.5 213.1 302.8 216.2 302.5 C219.4 302.2 226.9 302.3 230.0 303.1 C233.1 303.9 233.8 305.5 235.0 307.5 C236.2 309.5 236.7 312.9 237.5 315.0 C238.3 317.1 240.2 318.8 240.0 320.0 C239.8 321.2 238.3 321.7 236.2 322.5 C234.2 323.3 230.4 324.8 227.5 325.0 C224.6 325.2 221.0 324.4 218.8 323.8 C216.5 323.1 215.8 321.5 213.8 321.2 C211.7 321.0 209.2 321.0 206.2 322.5 C203.3 324.0 199.0 329.2 196.2 330.0 C193.5 330.8 191.1 328.8 190.0 327.5 C188.9 326.2 188.8 324.2 189.4 322.5 C190.0 320.8 193.2 319.2 193.8 317.5 C194.3 315.8 192.7 314.0 192.5 312.5 C192.3 311.0 191.7 309.9 192.5 308.8Z" fill="#2cd3dd"/>
<path d="M177.5 242.5 C179.0 241.6 182.7 239.4 185.0 239.4 C187.3 239.4 189.4 241.2 191.2 242.5 C193.1 243.8 194.8 247.5 196.2 247.5 C197.7 247.5 198.5 243.8 200.0 242.5 C201.5 241.2 202.5 240.3 205.0 240.0 C207.5 239.7 211.9 240.3 215.0 240.6 C218.1 240.9 221.9 240.8 223.8 241.9 C225.6 243.1 225.6 244.5 226.2 247.5 C226.9 250.5 227.7 257.1 227.5 260.0 C227.3 262.9 227.1 263.8 225.0 265.0 C222.9 266.2 217.9 266.9 215.0 267.5 C212.1 268.1 210.0 269.2 207.5 268.8 C205.0 268.3 202.7 265.0 200.0 265.0 C197.3 265.0 194.4 267.5 191.2 268.8 C188.1 270.0 184.2 272.1 181.2 272.5 C178.3 272.9 175.4 272.3 173.8 271.2 C172.1 270.2 171.2 267.9 171.2 266.2 C171.2 264.6 172.5 262.7 173.8 261.2 C175.0 259.8 177.5 259.0 178.8 257.5 C180.0 256.0 181.2 254.2 181.2 252.5 C181.2 250.8 179.6 248.8 178.8 247.5 C177.9 246.2 176.5 245.8 176.2 245.0 C176.0 244.2 176.0 243.4 177.5 242.5Z" fill="#e03a3c"/>
<g fill="none" stroke="#f2708e" stroke-width="1.5"><circle cx="178.7" cy="255" r="11.0"/><circle cx="178.7" cy="255" r="24.0"/><circle cx="178.7" cy="255" r="31.0"/><circle cx="178.7" cy="255" r="37.5"/></g>
<circle cx="305" cy="335" r="48.2" fill="#2bd5df" stroke="#8a8ce6" stroke-width="1.4"/>
<clipPath id="kdoc"><circle cx="305" cy="335" r="47.5"/></clipPath>
<g clip-path="url(#kdoc)">
<path d="M258 395 C258 366 270 352 296 346 L314 346 C340 352 352 366 352 395Z" fill="#ffffff"/>
<path d="M299 332 L309 332 L310 343 L304 350 L298 343Z" fill="#f0c4b0"/>
<path d="M296 341 L304 350 L312 341 L317 352 L304 372 L291 352Z" fill="#e6f3f1"/>
<path d="M301 346 L305 346 L304 356 L299 360Z" fill="#1c3f8a"/>
<path d="M292 312 C292 304 298 300 304 300 C311 300 314 305 314 312 L313 322 C311 332 295 333 293 322Z" fill="#f2c6b2"/>
<ellipse cx="314.5" cy="318" rx="3" ry="4" fill="#f0b090"/>
<path d="M291 320 C291 331 296 336 303 336 C310 336 313 330 313 318 C311 320 308 322 303 321 C297 322 294 320 291 320Z" fill="#7b7b7b" stroke="#e0607a" stroke-width="0.5"/>
<path d="M290 312 C288 302 294 296 300 296 L302 292 L304 296 C312 294 320 300 319 310 L318 318 L314 318 L313 308 C308 308 300 306 295 309 L292 316Z" fill="#7b7b7b"/>
<circle cx="298" cy="314" r="1" fill="#222"/><circle cx="307" cy="314" r="1" fill="#222"/>
<path d="M292 342 C286 350 285 360 286 368" stroke="#1c3f8a" stroke-width="1.2" fill="none"/><circle cx="286" cy="369" r="3" fill="#a0a0ee"/>
<path d="M316 342 C320 350 321 356 318 362 C314 368 316 374 322 375" stroke="#c9d8f8" stroke-width="1" fill="none"/><circle cx="313" cy="372" r="1.5" fill="#8c8ce6"/><circle cx="322" cy="375" r="1.5" fill="#8c8ce6"/>
</g>
<circle cx="564.3" cy="293.1" r="110.7" fill="#ffffff"/>
<circle cx="564.3" cy="293.1" r="109.2" fill="#12dfcb"/>
<g clip-path="url(#ken)">
<circle cx="564.3" cy="291.9" r="105.0" fill="#2aabb3"/>
<path d="M530 180 L700 180 L700 340 L668 322 C640 290 600 250 548 222Z" fill="#5bc7bb"/>
<rect x="545" y="241" width="43" height="21" rx="2" fill="#ffffff"/><path d="M570 261 L576 268 L578 261Z" fill="#fff"/>
<path d="M550 250 H583" stroke="#f2d0d0" stroke-width="1"/><path d="M550 254 H568" stroke="#f2d0d0" stroke-width="1"/>
<path d="M648 294 L664 294 C668 296 668 300 666 306 L660 340 L640 340Z" fill="#1f6f93"/>
<path d="M545 324 L536 356 M545 324 L552 356 M640 324 L632 356 M640 324 L648 356" stroke="#3fd6e6" stroke-width="0.8"/>
<path d="M620 275 L630 275 L630 285 L620 285Z" fill="#a84e36"/>
<path d="M597 303 C600 292 608 285 620 282 L631 282 C645 285 652 292 655 304 L658 319 L600 319 L597 310Z" fill="#38dcea"/>
<path d="M620 282 L631.5 282 L627 311 L624 311Z" fill="#ffffff"/>
<path d="M618 283 L624 311 L616 298 L619 293Z M633 283 L627 311 L636 297 L633 292Z" fill="#2c8d95"/>
<path d="M612 312 L628 312 L629 319.5 L611 319.5Z" fill="#b85b40"/>
<path d="M612 262 C612 256 616 252 622 252 C628 252 632 256 632 263 C632 271 628 277 621 277 C615 277 612 271 612 264Z" fill="#c0583f"/>
<ellipse cx="632.5" cy="265.5" rx="2.3" ry="3" fill="#c0583f"/>
<path d="M611 260 C610 252 614 248 620 248 L628 247 C632 248 634 252 632 258 L631 263 L629 258 C624 256 618 256 614 260 L612 264Z" fill="#2b9099"/>
<path d="M593 325 L650 325 L648 352 L593 352Z" fill="#4060a8"/>
<path d="M557 291 L597 291 L603 320 L562 320Z" fill="#1d6b8b"/>
<rect x="598" y="318" width="20" height="3" fill="#0f2f3f"/>
<rect x="522" y="319.5" width="145" height="4.5" fill="#ffffff"/>
<path d="M470 309 L502 311 L513 332 L521 354 L471 354Z" fill="#5fd9a8"/>
<path d="M498 258 L486 262 L478 270 L473 288 L469.5 310 L502 311 L504 300 L522 314 L531 317 L535 311 L528 298 L545 301 L549 297 L531 291 L524 281 L515 264 L509 258Z" fill="#3fdcee"/>
<path d="M486 268 C482 280 486 292 494 300" stroke="#3b5ba6" stroke-width="1.2" fill="none"/>
<path d="M501 257 L509 257 L508 270 L503 268Z" fill="#ffffff"/>
<path d="M504 260 L507 260 L506 270 L503 272Z" fill="#3e5ba8"/>
<path d="M498 258 L503 268 L499 274 L495 262Z M509 258 L513 262 L508 272 L507 266Z" fill="#2eaab8"/>
<path d="M503 243 C503 237 508 234 513 234 C519 234 523 238 522 245 L521 252 C519 257 514 259 509 258 C505 257 503 252 503 247Z" fill="#f5c6b2"/>
<ellipse cx="503.5" cy="246" rx="2.5" ry="3.2" fill="#f0b8a0"/>
<path d="M502 244 C500 236 504 231 510 231 L526 232 L523 240 L520 241 C516 238 511 238 507 240 L505 246Z" fill="#9ea6a6"/>
<path d="M531 313 L544 315 L546 320 L531 320Z" fill="#f5c6b2"/>
<path d="M545 297 L552 297 L549 301 L545 302Z" fill="#f5c6b2"/>
</g>
<circle cx="167.4" cy="573.8" r="141.4" fill="#ffffff"/>
<circle cx="167.4" cy="573.8" r="139.9" fill="#12dfcb"/>
<g clip-path="url(#kmf)">
<circle cx="167.4" cy="572.5" r="135.7" fill="#35c8a0"/>
<rect x="20" y="436" width="300" height="15" fill="#37b4f6"/>
<path d="M20 451.0H320M20 475.0H320M31.0 451.0V475.0M31.0 475.0L89.0 451.0M89.0 451.0V475.0M89.0 475.0L147.0 451.0M147.0 451.0V475.0M147.0 475.0L204.0 451.0M204.0 451.0V475.0M204.0 475.0L262.0 451.0M262.0 451.0V475.0M262.0 475.0L320.0 451.0M320.0 451.0V475.0M20 494.7H320M20 523.7H320M28.0 494.7V523.7M28.0 523.7L62.0 494.7M62.0 494.7V523.7M62.0 523.7L96.0 494.7M96.0 494.7V523.7M96.0 523.7L130.0 494.7M130.0 494.7V523.7M130.0 523.7L164.0 494.7M164.0 494.7V523.7M164.0 523.7L198.0 494.7M198.0 494.7V523.7M198.0 523.7L232.0 494.7M232.0 494.7V523.7M232.0 523.7L266.0 494.7M266.0 494.7V523.7M266.0 523.7L300.0 494.7M300.0 494.7V523.7M20 532.0H320M20 550.0H320M7.0 532.0V550.0M7.0 550.0L40.0 532.0M40.0 532.0V550.0M40.0 550.0L73.0 532.0M73.0 532.0V550.0M73.0 550.0L106.0 532.0M106.0 532.0V550.0M106.0 550.0L139.0 532.0M139.0 532.0V550.0M139.0 550.0L172.0 532.0M172.0 532.0V550.0M172.0 550.0L205.0 532.0M205.0 532.0V550.0M205.0 550.0L238.0 532.0M238.0 532.0V550.0M238.0 550.0L271.0 532.0M271.0 532.0V550.0M271.0 550.0L304.0 532.0M304.0 532.0V550.0" stroke="#a6f3ef" stroke-width="1.5" fill="none"/>
<rect x="20" y="475" width="300" height="5" fill="#37b8f8"/>
<rect x="20" y="485" width="300" height="3" fill="#a6f3ef"/>
<path d="M20 430 L74 430 L74 478 L82 478 L82 489 L68 489 L66 499 L20 512Z" fill="#78f2f6"/>
<path d="M36 532 L66 514" stroke="#7ef6f6" stroke-width="12" stroke-linecap="round"/>
<path d="M196 506 L222 500 L226 512 L214 520 L236 548 L232 562 L218 562 L200 528Z" fill="#8cf3f3"/>
<path d="M100 540 L118 534 L138 560 L136 580 L118 584 L112 566Z" fill="#9cf5f5"/>
<rect x="20" y="584" width="300" height="53" fill="#74f2f6"/>
<path d="M119 597 L124 580 L153 580 L153 597Z" fill="#35c8a0"/>
<rect x="134" y="604" width="58" height="18" fill="#35c8a0"/><rect x="217" y="604" width="69" height="18" fill="#35c8a0"/>
<rect x="152" y="580" width="18" height="22" fill="#8ff7f7"/><rect x="228" y="580" width="18" height="22" fill="#8ff7f7"/>
<rect x="20" y="637" width="300" height="10" fill="#35c8a0"/>
<rect x="20" y="647" width="300" height="80" fill="#a5e7ee"/>
<rect x="20" y="653.5" width="300" height="1.2" fill="#3fdcf2"/>
<path d="M70 655L10 725M96 655L36 725M122 655L62 725M148 655L88 725M174 655L114 725M200 655L140 725M226 655L166 725M252 655L192 725M278 655L218 725M304 655L244 725M330 655L270 725M356 655L296 725" stroke="#4fd9ee" stroke-width="0.8" fill="none"/>
<path d="M20 552 C30 540 48 534 62 545 L78 562 L111 608 L113 647 L20 647Z" fill="#4fe0ec"/>
<path d="M31 606 L64 642 L31 642Z" fill="#62eef6"/>
<circle cx="41" cy="561" r="8.5" fill="none" stroke="#3b509e" stroke-width="4"/>
<path d="M53 528 L74 518 L84 548 L64 556Z" fill="#3b509e"/>
<path d="M64.4 520 L148.8 490 L148.8 512.5 L81.3 552Z" fill="#4fe0ec"/>
<circle cx="125.3" cy="504" r="7" fill="none" stroke="#3b509e" stroke-width="3.5"/>
<path d="M48 512 Q66 490 86 510" stroke="#3b509e" stroke-width="4" fill="none"/>
<path d="M76 553 C90 570 100 590 110 604" stroke="#3b509e" stroke-width="1" fill="none"/>
<path d="M61 647 L61 620 C61 607 72 601 87 601 C102 601 113 607 113 620 L113 647Z" fill="#3b509e"/>
<circle cx="88" cy="627" r="10" fill="#3b509e" stroke="#4fe0ec" stroke-width="4"/>
<path d="M113 620 C128 618 139 630 139 647" stroke="#3b509e" stroke-width="4.5" fill="none"/>
<path d="M134 490 Q154 466 174 490" stroke="#3b509e" stroke-width="1.6" fill="none"/>
<rect x="148" y="499" width="13" height="9" fill="#3b509e"/>
<rect x="161" y="490" width="26" height="22" rx="3" fill="#4fe0ec"/><circle cx="176" cy="501" r="5" fill="none" stroke="#3b509e" stroke-width="2.5"/>
<rect x="172" y="512" width="8" height="16" fill="#3b509e"/>
<path d="M168 528 L185 528 L187 542 L166 542Z" fill="#4fe0ec"/>
<rect x="160" y="541" width="32" height="3" fill="#3b509e"/>
<path d="M163 544 L170 544 L160 562 L153 560Z M190 544 L183 544 L193 562 L200 560Z" fill="#4fe0ec"/>
<path d="M153 560 L160 562 L160 582 Z M200 560 L193 562 L193 582Z" fill="#3b509e"/>
<circle cx="165" cy="547" r="1.8" fill="#3b509e"/><circle cx="188" cy="547" r="1.8" fill="#3b509e"/><circle cx="156" cy="559" r="1.8" fill="#3b509e"/><circle cx="197" cy="559" r="1.8" fill="#3b509e"/>
<path d="M246 514 C240 500 248 484 262 482" stroke="#3b509e" stroke-width="2.5" fill="none"/>
<rect x="268" y="498" width="8" height="12" fill="#3b509e"/>
<path d="M234 548 L278 514" stroke="#4fe0ec" stroke-width="22" stroke-linecap="round"/>
<circle cx="238" cy="547" r="5.5" fill="none" stroke="#3b509e" stroke-width="3"/><circle cx="272" cy="517" r="5.5" fill="none" stroke="#3b509e" stroke-width="3"/>
<path d="M246 558 L272 584" stroke="#3b509e" stroke-width="6"/>
<path d="M250 560 L272 586" stroke="#4fe0ec" stroke-width="11" stroke-linecap="round"/>
<circle cx="253" cy="565" r="2.2" fill="#3b509e"/><circle cx="271" cy="585" r="2.2" fill="#3b509e"/>
<path d="M258 548 C272 560 282 580 278 600" stroke="#3b509e" stroke-width="1" fill="none"/>
<rect x="264" y="590" width="6" height="6" fill="#3b509e"/>
<rect x="258" y="595" width="18" height="10" fill="#3b509e"/>
<path d="M259 604 L252 622 L256 626 M267 604 L267 624 M275 604 L284 620 L280 626" stroke="#3b509e" stroke-width="2" fill="none"/>
<rect x="73.0" y="676.0" width="42.0" height="6" fill="#cfd2d2"/><rect x="71.0" y="648.0" width="42.0" height="28.0" fill="#f25858"/><path d="M71.0 648.0 L76.0 642.0 L113.0 642.0 L113.0 648.0 Z" fill="#f47070"/><rect x="105.0" y="648.0" width="8.0" height="28.0" fill="#f46a6a"/><rect x="88.6" y="643.0" width="3" height="9" fill="#f7a29c"/><rect x="74.0" y="670.0" width="10" height="2" fill="#d84848"/>
<rect x="165.0" y="676.0" width="32.0" height="6" fill="#cfd2d2"/><rect x="163.0" y="648.0" width="32.0" height="28.0" fill="#f25858"/><path d="M163.0 648.0 L168.0 642.0 L195.0 642.0 L195.0 648.0 Z" fill="#f47070"/><rect x="187.0" y="648.0" width="8.0" height="28.0" fill="#f46a6a"/><rect x="176.4" y="643.0" width="3" height="9" fill="#f7a29c"/><rect x="166.0" y="670.0" width="10" height="2" fill="#d84848"/>
<rect x="241.0" y="648.0" width="37.0" height="14.0" fill="#f25858"/><path d="M241.0 648.0 L246.0 642.0 L278.0 642.0 L278.0 648.0 Z" fill="#f47070"/><rect x="270.0" y="648.0" width="8.0" height="14.0" fill="#f46a6a"/><rect x="256.5" y="643.0" width="3" height="9" fill="#f7a29c"/><rect x="244.0" y="656.0" width="10" height="2" fill="#d84848"/>
</g>
<circle cx="463.3" cy="522.7" r="123.8" fill="#ffffff"/>
<circle cx="463.3" cy="522.7" r="122.3" fill="#12dfcb"/>
<g clip-path="url(#kgm)">
<circle cx="463.3" cy="521.5" r="118.0" fill="#5bd8ac"/>
<path d="M392 488 C390 462 404 440 430 426 C452 414 480 409 506 410 L512 416 C480 420 452 432 440 452 C432 470 440 486 470 496 L506 494 C530 500 556 508 572 520 L578 560 L566 606 L528 606 L520 560 L496 540 L436 518 C416 514 398 504 392 488Z" fill="#1a6482"/>
<path d="M482 429 C464 435 448 445 439 456 C432 466 432 477 438 486 L452 490 L470 458 L492 436Z" fill="#5bd8ac"/>
<path d="M395 480 C396 455 420 432 470 416 M400 492 C404 462 430 438 480 420" stroke="#10384a" stroke-width="1.8" fill="none"/>
<g fill="#12384a"><ellipse cx="440" cy="452" rx="10" ry="3.2"/><ellipse cx="427" cy="466.5" rx="10" ry="2.8"/><ellipse cx="425.5" cy="481" rx="10" ry="3"/><ellipse cx="437" cy="496" rx="11" ry="4"/></g>
<path d="M500 500 C530 504 556 514 570 524 L574 560 L568 606 L530 606 L522 560 L510 540Z" fill="#12384a" opacity="0.9"/>
<path d="M512 500 C530 506 548 512 562 522 L560 540 C548 530 530 524 514 520Z" fill="#1a6482"/>
<path d="M366 576 L434 521 L500 530 C512 540 520 552 524 572 L528 606 L530 650 L362 650Z" fill="#7a7a7a"/>
<path d="M431 515 C432 506 442 502 454 504 L486 504 C498 506 504 514 503 526 C502 542 490 556 470 557 C448 557 434 542 431 515Z" fill="#7ea88f"/>
<path d="M437 530 C442 546 456 554 470 554 M494 514 C500 528 496 544 484 552" stroke="#5e9c84" stroke-width="2.5" fill="none"/>
<path d="M456 514 L476 514 L474 530 L466 536 L458 530Z" fill="#f6b49a"/>
<path d="M448 478 C446 464 456 456 472 457 C488 458 498 470 498 486 L497 500 C494 514 484 520 470 519 C456 518 449 506 448 494Z" fill="#f8cab6"/>
<ellipse cx="444" cy="481" rx="6.5" ry="8.5" fill="#f6b094"/><ellipse cx="501" cy="495" rx="6.5" ry="8.5" fill="#f6b094"/>
<path d="M468 482 L474 483 L471 499 L465 498Z" fill="#ea5e48"/>
<ellipse cx="459" cy="486" rx="1.8" ry="3" fill="#2a2a2a"/><ellipse cx="482" cy="492" rx="1.8" ry="3" fill="#2a2a2a"/>
<path d="M456 500 C462 508 474 509 480 504" stroke="#e04a40" stroke-width="1.8" fill="none"/>
<ellipse cx="455" cy="496" rx="4" ry="1.4" fill="#f4a0a0"/><ellipse cx="484" cy="502" rx="4" ry="1.4" fill="#f4a0a0"/>
<path d="M447 470 C444 458 450 446 460 440 L470 434 L476 438 C488 432 506 430 524 430 L514 444 L529 446 L516 458 L520 470 L510 468 L504 488 C500 474 492 466 480 462 C470 460 462 462 456 470 L450 476Z" fill="#3d6a80"/>
<path d="M392 561 L490 574 Q493 575 492 578 L488 600 Q487 603 484 603 L386 603 Q382 602 383 598 L388 564 Q389 561 392 561Z" fill="#dfe5e3"/>
<path d="M461 576 L484 578 Q486 579 486 581 L484 590 L459 589 Q457 588 458 586Z" fill="#a9b0ae"/><circle cx="478" cy="583" r="2" fill="#8a9290"/>
<text x="392" y="598" font-size="5" fill="#8a9290">oppo</text>
<path d="M367 573 C374 567 386 566 392 570 L390 596 C382 600 372 598 368 590 C364 584 364 578 367 573Z" fill="#f4846e"/>
<path d="M484 582 C490 578 500 580 503 586 L503 602 C496 606 488 606 484 600Z" fill="#f4846e"/>
</g>
<circle cx="364" cy="529.6" r="25.6" fill="url(#gt)"/>
<g stroke="#ffffff" stroke-width="2.5" fill="none"><circle cx="364" cy="529.6" r="8.2"/><circle cx="364" cy="529.6" r="2.6"/></g>
<g stroke="#ffffff" stroke-width="2.6" stroke-linecap="round"><path d="M364 518V522.5M364 536.7V541.2M352.5 529.6H357M371 529.6H375.5"/></g>
<path d="M390 526 L400 521 M390 533 L402 526" stroke="#e8fff8" stroke-width="0.8"/>
<path d="M540 490 L521 498 L548 500Z" fill="#6ccad6"/>
<circle cx="565.4" cy="472.3" r="35.4" fill="url(#gb)"/>
<path d="M547 462 C548 460.5 550 460 553 460 L578 460 C581 460 583 460.5 585 462 C588 467 590 477 589.5 483.5 C589 488 583.5 489 580.5 486 L573.5 479 L557.5 479 L550.5 486 C547.5 489 542 488 541.5 483.5 C541 477 543 467 547 462Z" fill="#ffffff"/>
<g fill="#74d2d2"><path d="M553.3 463.2 h3.4 v4 l-1.7 2.3 l-1.7 -2.3z"/><path d="M553.3 475.8 h3.4 v-4 l-1.7 -2.3 l-1.7 2.3z"/><path d="M548.7 467.8 v3.4 h4 l2.3 -1.7 l-2.3 -1.7z"/><path d="M561.3 467.8 v3.4 h-4 l-2.3 -1.7 l2.3 -1.7z"/><circle cx="576" cy="464.8" r="2.2"/><circle cx="576" cy="474.2" r="2.2"/><circle cx="571.3" cy="469.5" r="2.2"/><circle cx="580.7" cy="469.5" r="2.2"/></g>
<path d="M518 522 L548 500 M514 530 L552 508 M524 540 L556 516" stroke="#e8fff8" stroke-width="0.8"/>
<circle cx="72.9" cy="394.8" r="52.8" fill="#0fdfcb"/><circle cx="73" cy="394.8" r="47.8" fill="#ececec"/>
<g fill="#00e896"><circle cx="40.2" cy="394.7" r="6.5"/><circle cx="70.6" cy="394.7" r="6.5"/><circle cx="101.3" cy="394.7" r="6.5"/></g>
<rect x="75.4" y="113.9" width="291.2" height="29.7" rx="14.8" fill="#b2fcf3" stroke="#1c7f86" stroke-width="2.8"/>
<text x="86.5" y="133.8" font-size="14.8" textLength="272.5" lengthAdjust="spacingAndGlyphs" fill="#2d7d72" stroke="#2d7d72" stroke-width="0.38" >Low Latency, Extreme Stability and Security</text>
<rect x="458.4" y="354.0" width="221.8" height="28.6" rx="14.3" fill="#b2fcf3" stroke="#1c7f86" stroke-width="2.8"/>
<text x="467.6" y="373.4" font-size="14.5" textLength="205.4" lengthAdjust="spacingAndGlyphs" fill="#2d7d72" stroke="#2d7d72" stroke-width="0.38" >Meeting Each Customised Needs</text>
<rect x="349.3" y="607.6" width="227.2" height="29.4" rx="14.7" fill="#b2fcf3" stroke="#1c7f86" stroke-width="2.8"/>
<text x="358.3" y="627.0" font-size="15.5" textLength="205.2" lengthAdjust="spacingAndGlyphs" fill="#2d7d72" stroke="#2d7d72" stroke-width="0.40" >High Speed, High Display Quality</text>
<rect x="47.1" y="714.1" width="291.2" height="27.7" rx="13.8" fill="#b2fcf3" stroke="#1c7f86" stroke-width="2.8"/>
<text x="57.6" y="734.7" font-size="15.0" textLength="271.4" lengthAdjust="spacingAndGlyphs" fill="#2d7d72" stroke="#2d7d72" stroke-width="0.39" >Low Latency, Massive Connection Capacity</text>
<rect x="262.5" y="238.3" width="167.5" height="45.0" rx="22.5" fill="#24a2a8" stroke="#1b7c84" stroke-width="2"/>
<rect x="255.0" y="230.8" width="167.5" height="45.0" rx="22.5" fill="#b2fcf3" stroke="#1b7c84" stroke-width="1.6"/>
<text x="269.7" y="264.7" font-size="31.5" textLength="140.8" lengthAdjust="spacingAndGlyphs" fill="#2d7d72" stroke="#2d7d72" stroke-width="0.82" >Telehealth</text>
<circle cx="415.0" cy="234.7" r="9.7" fill="#ececec" stroke="#12dcc8" stroke-width="2.2"/>
<rect x="470.2" y="185.5" width="230.8" height="39.7" rx="19.8" fill="#24a2a8" stroke="#1b7c84" stroke-width="2"/>
<rect x="464.8" y="178.0" width="230.8" height="39.7" rx="19.8" fill="#b2fcf3" stroke="#1b7c84" stroke-width="1.6"/>
<text x="480.5" y="207.2" font-size="24.3" textLength="201.0" lengthAdjust="spacingAndGlyphs" fill="#2d7d72" stroke="#2d7d72" stroke-width="0.63" >Enterprise Network</text>
<circle cx="689.5" cy="183.4" r="10.3" fill="#ececec" stroke="#12dcc8" stroke-width="2.2"/>
<rect x="523.9" y="533.4" width="163.1" height="43.1" rx="21.6" fill="#24a2a8" stroke="#1b7c84" stroke-width="2"/>
<rect x="518.9" y="525.8" width="163.1" height="43.1" rx="21.6" fill="#b2fcf3" stroke="#1b7c84" stroke-width="1.6"/>
<text x="525.6" y="557.5" font-size="24.9" textLength="148.7" lengthAdjust="spacingAndGlyphs" fill="#2d7d72" stroke="#2d7d72" stroke-width="0.65" >Cloud Gaming</text>
<circle cx="672.5" cy="530.3" r="10.4" fill="#ececec" stroke="#12dcc8" stroke-width="2.2"/>
<rect x="198.5" y="665.1" width="287.5" height="40.3" rx="20.1" fill="#24a2a8" stroke="#1b7c84" stroke-width="2"/>
<rect x="196.0" y="657.2" width="287.5" height="40.3" rx="20.1" fill="#b2fcf3" stroke="#1b7c84" stroke-width="1.6"/>
<text x="207.3" y="685.3" font-size="25.1" textLength="263.7" lengthAdjust="spacingAndGlyphs" fill="#2d7d72" stroke="#2d7d72" stroke-width="0.65" >Intelligent Manufacturing</text>
<circle cx="480.0" cy="660.8" r="9.6" fill="#ececec" stroke="#12dcc8" stroke-width="2.2"/>
<clipPath id="cl1"><path d="M761.4,250.3 L760.6,249.7 L759.8,249.0 L759.1,248.2 L758.4,247.4 L757.7,246.6 L757.1,245.8 L756.4,244.9 L755.8,244.0 L755.2,243.1 L754.6,242.1 L754.1,241.1 L753.5,240.0 L753.0,239.0 L752.6,238.0 L752.2,237.0 L751.9,236.1 L751.6,235.2 L751.4,234.4 L751.2,233.5 L751.1,232.7 L751.0,231.9 L750.9,231.2 L750.9,230.5 L750.9,229.8 L750.9,229.1 L751.0,228.4 L751.0,227.7 L751.1,227.1 L751.2,226.5 L751.4,226.0 L751.6,225.4 L751.9,225.0 L752.1,224.6 L752.5,224.3 L752.9,224.0 L753.3,223.7 L753.7,223.5 L754.2,223.3 L754.6,223.1 L755.0,223.0 L755.4,223.0 L755.8,222.9 L756.2,222.9 L756.6,223.0 L757.0,223.1 L757.4,223.2 L757.8,223.3 L758.2,223.4 L758.6,223.6 L759.0,223.9 L759.4,224.3 L759.8,224.7 L760.2,225.0 L760.5,225.2 L760.8,225.2 L761.0,225.0 L761.1,224.5 L761.1,223.8 L761.0,223.0 L760.9,222.0 L760.8,221.0 L760.7,219.9 L760.7,218.9 L760.7,217.9 L760.8,216.9 L760.9,215.9 L761.1,214.8 L761.2,213.8 L761.4,212.8 L761.6,211.8 L761.9,210.8 L762.1,209.9 L762.4,209.2 L762.8,208.4 L763.1,207.7 L763.5,207.0 L763.9,206.4 L764.3,205.8 L764.8,205.3 L765.3,204.8 L765.9,204.3 L766.5,203.9 L767.2,203.4 L767.9,203.1 L768.6,202.7 L769.4,202.4 L770.1,202.2 L770.9,202.0 L771.6,201.9 L772.4,201.9 L773.2,201.8 L774.0,201.9 L774.8,202.0 L775.6,202.1 L776.4,202.2 L777.2,202.4 L777.9,202.6 L778.6,202.9 L779.3,203.2 L780.0,203.5 L780.7,203.9 L781.4,204.3 L782.1,204.7 L782.7,205.2 L783.4,205.8 L784.2,206.4 L784.9,207.0 L785.6,207.7 L786.3,208.5 L787.0,209.2 L787.6,210.0 L788.3,210.7 L788.9,211.5 L789.5,212.4 L790.1,213.3 L790.7,214.2 L791.3,215.0 L791.8,215.8 L792.3,216.5 L792.6,217.1 L792.9,217.5 L793.2,218.0 L793.3,218.3 L793.5,218.6 L793.6,218.7 L793.6,218.8 L793.7,218.8 L793.8,218.7 L793.9,218.4 L794.0,218.0 L794.1,217.4 L794.2,216.8 L794.3,216.1 L794.3,215.4 L794.5,214.6 L794.6,213.9 L794.8,213.2 L795.0,212.4 L795.2,211.6 L795.5,210.8 L795.7,210.0 L796.0,209.1 L796.3,208.3 L796.6,207.6 L796.9,206.8 L797.3,206.1 L797.6,205.4 L798.0,204.6 L798.4,203.9 L798.8,203.3 L799.3,202.6 L799.8,202.0 L800.3,201.5 L800.9,200.9 L801.6,200.4 L802.3,200.0 L803.0,199.5 L803.7,199.1 L804.3,198.8 L804.9,198.5 L805.5,198.2 L806.0,197.9 L806.4,197.7 L806.9,197.6 L807.3,197.4 L807.8,197.4 L808.4,197.3 L809.0,197.3 L809.6,197.3 L810.3,197.3 L811.1,197.4 L811.9,197.5 L812.7,197.7 L813.5,197.9 L814.4,198.1 L815.3,198.5 L816.2,198.8 L817.2,199.3 L818.2,199.8 L819.3,200.3 L820.3,200.9 L821.3,201.5 L822.3,202.2 L823.2,202.8 L824.1,203.5 L824.9,204.2 L825.7,205.0 L826.5,205.8 L827.3,206.6 L828.1,207.4 L828.8,208.3 L829.6,209.2 L830.3,210.1 L831.0,211.0 L831.8,212.0 L832.5,213.0 L833.2,214.0 L833.8,215.1 L834.5,216.1 L835.1,217.1 L835.7,218.1 L836.2,219.0 L836.7,220.0 L837.2,220.9 L837.7,221.9 L838.2,222.9 L838.6,223.9 L839.1,225.0 L839.5,226.1 L839.9,227.3 L840.4,228.4 L840.8,229.7 L841.2,230.9 L841.6,232.1 L841.9,233.3 L842.2,234.5 L842.5,235.7 L842.8,236.9 L843.0,238.2 L843.2,239.4 L843.4,240.6 L843.5,241.8 L843.7,242.9 L843.8,244.0 L843.9,245.1 L844.0,246.1 L844.0,247.1 L844.0,248.1 L844.0,249.1 L844.0,250.0 L844.0,250.8 L844.1,251.6 L844.1,252.2 L844.1,252.8 L844.0,253.3 L844.0,253.7 L844.0,254.1 L844.0,254.5 L844.2,255.0 L844.4,255.4 L844.8,255.9 L845.3,256.4 L845.9,257.0 L846.5,257.5 L847.2,258.0 L847.9,258.5 L848.6,259.0 L849.2,259.6 L849.8,260.1 L850.4,260.7 L851.0,261.2 L851.6,261.8 L852.2,262.4 L852.8,263.0 L853.4,263.7 L853.9,264.3 L854.5,265.0 L855.0,265.8 L855.5,266.6 L856.0,267.4 L856.5,268.2 L857.0,269.0 L857.5,269.8 L857.9,270.7 L858.3,271.5 L858.7,272.4 L859.1,273.3 L859.4,274.1 L859.8,275.0 L860.1,275.9 L860.4,276.9 L860.7,277.8 L860.9,278.8 L861.1,279.7 L861.3,280.7 L861.5,281.8 L861.6,282.8 L861.7,283.8 L861.8,284.8 L861.9,285.7 L861.9,286.7 L861.8,287.6 L861.8,288.5 L861.7,289.4 L861.6,290.3 L861.5,291.2 L861.3,292.0 L861.1,292.8 L860.8,293.6 L860.5,294.4 L860.1,295.2 L859.7,295.9 L859.3,296.6 L858.8,297.3 L858.4,297.9 L857.9,298.4 L857.4,298.8 L856.8,299.2 L856.3,299.5 L855.7,299.8 L855.0,300.0 L854.4,300.2 L853.8,300.3 L853.1,300.4 L852.5,300.4 L851.8,300.4 L851.2,300.3 L850.5,300.2 L849.8,300.0 L849.1,299.8 L848.4,299.5 L847.6,299.2 L847.0,298.9 L846.6,298.8 L846.3,298.6 L845.9,298.4 L845.3,298.0 L844.3,297.4 L842.7,296.4 L840.4,295.1 L837.2,293.3 L833.2,291.0 L828.6,288.4 L823.6,285.6 L818.5,282.7 L813.2,279.7 L808.2,276.8 L803.4,274.1 L798.7,271.5 L793.8,268.7 L788.8,265.9 L783.9,263.1 L779.3,260.5 L775.0,258.0 L771.3,255.9 L768.2,254.2 L766.0,253.0 L764.5,252.2 L763.5,251.7 L762.9,251.4 L762.6,251.3 L762.3,251.1 L762.0,250.8Z"/></clipPath>
<path d="M761.4,250.3 L760.6,249.7 L759.8,249.0 L759.1,248.2 L758.4,247.4 L757.7,246.6 L757.1,245.8 L756.4,244.9 L755.8,244.0 L755.2,243.1 L754.6,242.1 L754.1,241.1 L753.5,240.0 L753.0,239.0 L752.6,238.0 L752.2,237.0 L751.9,236.1 L751.6,235.2 L751.4,234.4 L751.2,233.5 L751.1,232.7 L751.0,231.9 L750.9,231.2 L750.9,230.5 L750.9,229.8 L750.9,229.1 L751.0,228.4 L751.0,227.7 L751.1,227.1 L751.2,226.5 L751.4,226.0 L751.6,225.4 L751.9,225.0 L752.1,224.6 L752.5,224.3 L752.9,224.0 L753.3,223.7 L753.7,223.5 L754.2,223.3 L754.6,223.1 L755.0,223.0 L755.4,223.0 L755.8,222.9 L756.2,222.9 L756.6,223.0 L757.0,223.1 L757.4,223.2 L757.8,223.3 L758.2,223.4 L758.6,223.6 L759.0,223.9 L759.4,224.3 L759.8,224.7 L760.2,225.0 L760.5,225.2 L760.8,225.2 L761.0,225.0 L761.1,224.5 L761.1,223.8 L761.0,223.0 L760.9,222.0 L760.8,221.0 L760.7,219.9 L760.7,218.9 L760.7,217.9 L760.8,216.9 L760.9,215.9 L761.1,214.8 L761.2,213.8 L761.4,212.8 L761.6,211.8 L761.9,210.8 L762.1,209.9 L762.4,209.2 L762.8,208.4 L763.1,207.7 L763.5,207.0 L763.9,206.4 L764.3,205.8 L764.8,205.3 L765.3,204.8 L765.9,204.3 L766.5,203.9 L767.2,203.4 L767.9,203.1 L768.6,202.7 L769.4,202.4 L770.1,202.2 L770.9,202.0 L771.6,201.9 L772.4,201.9 L773.2,201.8 L774.0,201.9 L774.8,202.0 L775.6,202.1 L776.4,202.2 L777.2,202.4 L777.9,202.6 L778.6,202.9 L779.3,203.2 L780.0,203.5 L780.7,203.9 L781.4,204.3 L782.1,204.7 L782.7,205.2 L783.4,205.8 L784.2,206.4 L784.9,207.0 L785.6,207.7 L786.3,208.5 L787.0,209.2 L787.6,210.0 L788.3,210.7 L788.9,211.5 L789.5,212.4 L790.1,213.3 L790.7,214.2 L791.3,215.0 L791.8,215.8 L792.3,216.5 L792.6,217.1 L792.9,217.5 L793.2,218.0 L793.3,218.3 L793.5,218.6 L793.6,218.7 L793.6,218.8 L793.7,218.8 L793.8,218.7 L793.9,218.4 L794.0,218.0 L794.1,217.4 L794.2,216.8 L794.3,216.1 L794.3,215.4 L794.5,214.6 L794.6,213.9 L794.8,213.2 L795.0,212.4 L795.2,211.6 L795.5,210.8 L795.7,210.0 L796.0,209.1 L796.3,208.3 L796.6,207.6 L796.9,206.8 L797.3,206.1 L797.6,205.4 L798.0,204.6 L798.4,203.9 L798.8,203.3 L799.3,202.6 L799.8,202.0 L800.3,201.5 L800.9,200.9 L801.6,200.4 L802.3,200.0 L803.0,199.5 L803.7,199.1 L804.3,198.8 L804.9,198.5 L805.5,198.2 L806.0,197.9 L806.4,197.7 L806.9,197.6 L807.3,197.4 L807.8,197.4 L808.4,197.3 L809.0,197.3 L809.6,197.3 L810.3,197.3 L811.1,197.4 L811.9,197.5 L812.7,197.7 L813.5,197.9 L814.4,198.1 L815.3,198.5 L816.2,198.8 L817.2,199.3 L818.2,199.8 L819.3,200.3 L820.3,200.9 L821.3,201.5 L822.3,202.2 L823.2,202.8 L824.1,203.5 L824.9,204.2 L825.7,205.0 L826.5,205.8 L827.3,206.6 L828.1,207.4 L828.8,208.3 L829.6,209.2 L830.3,210.1 L831.0,211.0 L831.8,212.0 L832.5,213.0 L833.2,214.0 L833.8,215.1 L834.5,216.1 L835.1,217.1 L835.7,218.1 L836.2,219.0 L836.7,220.0 L837.2,220.9 L837.7,221.9 L838.2,222.9 L838.6,223.9 L839.1,225.0 L839.5,226.1 L839.9,227.3 L840.4,228.4 L840.8,229.7 L841.2,230.9 L841.6,232.1 L841.9,233.3 L842.2,234.5 L842.5,235.7 L842.8,236.9 L843.0,238.2 L843.2,239.4 L843.4,240.6 L843.5,241.8 L843.7,242.9 L843.8,244.0 L843.9,245.1 L844.0,246.1 L844.0,247.1 L844.0,248.1 L844.0,249.1 L844.0,250.0 L844.0,250.8 L844.1,251.6 L844.1,252.2 L844.1,252.8 L844.0,253.3 L844.0,253.7 L844.0,254.1 L844.0,254.5 L844.2,255.0 L844.4,255.4 L844.8,255.9 L845.3,256.4 L845.9,257.0 L846.5,257.5 L847.2,258.0 L847.9,258.5 L848.6,259.0 L849.2,259.6 L849.8,260.1 L850.4,260.7 L851.0,261.2 L851.6,261.8 L852.2,262.4 L852.8,263.0 L853.4,263.7 L853.9,264.3 L854.5,265.0 L855.0,265.8 L855.5,266.6 L856.0,267.4 L856.5,268.2 L857.0,269.0 L857.5,269.8 L857.9,270.7 L858.3,271.5 L858.7,272.4 L859.1,273.3 L859.4,274.1 L859.8,275.0 L860.1,275.9 L860.4,276.9 L860.7,277.8 L860.9,278.8 L861.1,279.7 L861.3,280.7 L861.5,281.8 L861.6,282.8 L861.7,283.8 L861.8,284.8 L861.9,285.7 L861.9,286.7 L861.8,287.6 L861.8,288.5 L861.7,289.4 L861.6,290.3 L861.5,291.2 L861.3,292.0 L861.1,292.8 L860.8,293.6 L860.5,294.4 L860.1,295.2 L859.7,295.9 L859.3,296.6 L858.8,297.3 L858.4,297.9 L857.9,298.4 L857.4,298.8 L856.8,299.2 L856.3,299.5 L855.7,299.8 L855.0,300.0 L854.4,300.2 L853.8,300.3 L853.1,300.4 L852.5,300.4 L851.8,300.4 L851.2,300.3 L850.5,300.2 L849.8,300.0 L849.1,299.8 L848.4,299.5 L847.6,299.2 L847.0,298.9 L846.6,298.8 L846.3,298.6 L845.9,298.4 L845.3,298.0 L844.3,297.4 L842.7,296.4 L840.4,295.1 L837.2,293.3 L833.2,291.0 L828.6,288.4 L823.6,285.6 L818.5,282.7 L813.2,279.7 L808.2,276.8 L803.4,274.1 L798.7,271.5 L793.8,268.7 L788.8,265.9 L783.9,263.1 L779.3,260.5 L775.0,258.0 L771.3,255.9 L768.2,254.2 L766.0,253.0 L764.5,252.2 L763.5,251.7 L762.9,251.4 L762.6,251.3 L762.3,251.1 L762.0,250.8Z" fill="#e8fcf9" stroke="#b0f4ea" stroke-width="6.3" clip-path="url(#cl1)"/>
<clipPath id="cl2"><path d="M745.4,373.3 L744.6,372.7 L743.8,372.0 L743.1,371.2 L742.4,370.4 L741.7,369.6 L741.1,368.8 L740.4,367.9 L739.8,367.0 L739.2,366.1 L738.6,365.1 L738.1,364.1 L737.5,363.0 L737.0,362.0 L736.6,361.0 L736.2,360.0 L735.9,359.1 L735.6,358.2 L735.4,357.4 L735.2,356.5 L735.1,355.7 L735.0,354.9 L734.9,354.2 L734.9,353.5 L734.9,352.8 L734.9,352.1 L735.0,351.4 L735.0,350.7 L735.1,350.1 L735.2,349.5 L735.4,349.0 L735.6,348.4 L735.9,348.0 L736.1,347.6 L736.5,347.3 L736.9,347.0 L737.3,346.7 L737.7,346.5 L738.2,346.3 L738.6,346.1 L739.0,346.0 L739.4,346.0 L739.8,345.9 L740.2,345.9 L740.6,346.0 L741.0,346.1 L741.4,346.2 L741.8,346.3 L742.2,346.4 L742.6,346.6 L743.0,346.9 L743.4,347.3 L743.8,347.7 L744.2,348.0 L744.5,348.2 L744.8,348.2 L745.0,348.0 L745.1,347.5 L745.1,346.8 L745.0,346.0 L744.9,345.0 L744.8,344.0 L744.7,342.9 L744.7,341.9 L744.7,340.9 L744.8,339.9 L744.9,338.9 L745.1,337.8 L745.2,336.8 L745.4,335.8 L745.6,334.8 L745.9,333.8 L746.1,332.9 L746.4,332.2 L746.8,331.4 L747.1,330.7 L747.5,330.0 L747.9,329.4 L748.3,328.8 L748.8,328.3 L749.3,327.8 L749.9,327.3 L750.5,326.9 L751.2,326.4 L751.9,326.1 L752.6,325.7 L753.4,325.4 L754.1,325.2 L754.9,325.0 L755.6,324.9 L756.4,324.9 L757.2,324.8 L758.0,324.9 L758.8,325.0 L759.6,325.1 L760.4,325.2 L761.2,325.4 L761.9,325.6 L762.6,325.9 L763.3,326.2 L764.0,326.5 L764.7,326.9 L765.4,327.3 L766.1,327.7 L766.7,328.2 L767.4,328.8 L768.2,329.4 L768.9,330.0 L769.6,330.7 L770.3,331.5 L771.0,332.2 L771.6,333.0 L772.3,333.7 L772.9,334.5 L773.5,335.4 L774.1,336.3 L774.7,337.2 L775.3,338.0 L775.8,338.8 L776.3,339.5 L776.6,340.1 L776.9,340.5 L777.2,341.0 L777.3,341.3 L777.5,341.6 L777.6,341.7 L777.6,341.8 L777.7,341.8 L777.8,341.7 L777.9,341.4 L778.0,341.0 L778.1,340.4 L778.2,339.8 L778.3,339.1 L778.3,338.4 L778.5,337.6 L778.6,336.9 L778.8,336.2 L779.0,335.4 L779.2,334.6 L779.5,333.8 L779.7,333.0 L780.0,332.1 L780.3,331.3 L780.6,330.6 L780.9,329.8 L781.3,329.1 L781.6,328.4 L782.0,327.6 L782.4,326.9 L782.8,326.3 L783.3,325.6 L783.8,325.0 L784.3,324.5 L784.9,323.9 L785.6,323.4 L786.3,323.0 L787.0,322.5 L787.7,322.1 L788.3,321.8 L788.9,321.5 L789.5,321.2 L790.0,320.9 L790.4,320.7 L790.9,320.6 L791.3,320.4 L791.8,320.4 L792.4,320.3 L793.0,320.3 L793.6,320.3 L794.3,320.3 L795.1,320.4 L795.9,320.5 L796.7,320.7 L797.5,320.9 L798.4,321.1 L799.3,321.5 L800.2,321.8 L801.2,322.3 L802.2,322.8 L803.3,323.3 L804.3,323.9 L805.3,324.5 L806.3,325.2 L807.2,325.8 L808.1,326.5 L808.9,327.2 L809.7,328.0 L810.5,328.8 L811.3,329.6 L812.1,330.4 L812.8,331.3 L813.6,332.2 L814.3,333.1 L815.0,334.0 L815.8,335.0 L816.5,336.0 L817.2,337.0 L817.8,338.1 L818.5,339.1 L819.1,340.1 L819.7,341.1 L820.2,342.0 L820.7,343.0 L821.2,343.9 L821.7,344.9 L822.2,345.9 L822.6,346.9 L823.1,348.0 L823.5,349.1 L823.9,350.3 L824.4,351.4 L824.8,352.7 L825.2,353.9 L825.6,355.1 L825.9,356.3 L826.2,357.5 L826.5,358.7 L826.8,359.9 L827.0,361.2 L827.2,362.4 L827.4,363.6 L827.5,364.8 L827.7,365.9 L827.8,367.0 L827.9,368.1 L828.0,369.1 L828.0,370.1 L828.0,371.1 L828.0,372.1 L828.0,373.0 L828.0,373.8 L828.1,374.6 L828.1,375.2 L828.1,375.8 L828.0,376.3 L828.0,376.7 L828.0,377.1 L828.0,377.5 L828.2,378.0 L828.4,378.4 L828.8,378.9 L829.3,379.4 L829.9,380.0 L830.5,380.5 L831.2,381.0 L831.9,381.5 L832.6,382.0 L833.2,382.6 L833.8,383.1 L834.4,383.7 L835.0,384.2 L835.6,384.8 L836.2,385.4 L836.8,386.0 L837.4,386.7 L837.9,387.3 L838.5,388.0 L839.0,388.8 L839.5,389.6 L840.0,390.4 L840.5,391.2 L841.0,392.0 L841.5,392.8 L841.9,393.7 L842.3,394.5 L842.7,395.4 L843.1,396.3 L843.4,397.1 L843.8,398.0 L844.1,398.9 L844.4,399.9 L844.7,400.8 L844.9,401.8 L845.1,402.7 L845.3,403.7 L845.5,404.8 L845.6,405.8 L845.7,406.8 L845.8,407.8 L845.9,408.7 L845.9,409.7 L845.8,410.6 L845.8,411.5 L845.7,412.4 L845.6,413.3 L845.5,414.2 L845.3,415.0 L845.1,415.8 L844.8,416.6 L844.5,417.4 L844.1,418.2 L843.7,418.9 L843.3,419.6 L842.8,420.3 L842.4,420.9 L841.9,421.4 L841.4,421.8 L840.8,422.2 L840.3,422.5 L839.7,422.8 L839.0,423.0 L838.4,423.2 L837.8,423.3 L837.1,423.4 L836.5,423.4 L835.8,423.4 L835.2,423.3 L834.5,423.2 L833.8,423.0 L833.1,422.8 L832.4,422.5 L831.6,422.2 L831.0,421.9 L830.6,421.8 L830.3,421.6 L829.9,421.4 L829.3,421.0 L828.3,420.4 L826.7,419.4 L824.4,418.1 L821.2,416.3 L817.2,414.0 L812.6,411.4 L807.6,408.6 L802.5,405.7 L797.2,402.7 L792.2,399.8 L787.4,397.1 L782.7,394.5 L777.8,391.7 L772.8,388.9 L767.9,386.1 L763.3,383.5 L759.0,381.0 L755.3,378.9 L752.2,377.2 L750.0,376.0 L748.5,375.2 L747.5,374.7 L746.9,374.4 L746.6,374.3 L746.3,374.1 L746.0,373.8Z"/></clipPath>
<path d="M745.4,373.3 L744.6,372.7 L743.8,372.0 L743.1,371.2 L742.4,370.4 L741.7,369.6 L741.1,368.8 L740.4,367.9 L739.8,367.0 L739.2,366.1 L738.6,365.1 L738.1,364.1 L737.5,363.0 L737.0,362.0 L736.6,361.0 L736.2,360.0 L735.9,359.1 L735.6,358.2 L735.4,357.4 L735.2,356.5 L735.1,355.7 L735.0,354.9 L734.9,354.2 L734.9,353.5 L734.9,352.8 L734.9,352.1 L735.0,351.4 L735.0,350.7 L735.1,350.1 L735.2,349.5 L735.4,349.0 L735.6,348.4 L735.9,348.0 L736.1,347.6 L736.5,347.3 L736.9,347.0 L737.3,346.7 L737.7,346.5 L738.2,346.3 L738.6,346.1 L739.0,346.0 L739.4,346.0 L739.8,345.9 L740.2,345.9 L740.6,346.0 L741.0,346.1 L741.4,346.2 L741.8,346.3 L742.2,346.4 L742.6,346.6 L743.0,346.9 L743.4,347.3 L743.8,347.7 L744.2,348.0 L744.5,348.2 L744.8,348.2 L745.0,348.0 L745.1,347.5 L745.1,346.8 L745.0,346.0 L744.9,345.0 L744.8,344.0 L744.7,342.9 L744.7,341.9 L744.7,340.9 L744.8,339.9 L744.9,338.9 L745.1,337.8 L745.2,336.8 L745.4,335.8 L745.6,334.8 L745.9,333.8 L746.1,332.9 L746.4,332.2 L746.8,331.4 L747.1,330.7 L747.5,330.0 L747.9,329.4 L748.3,328.8 L748.8,328.3 L749.3,327.8 L749.9,327.3 L750.5,326.9 L751.2,326.4 L751.9,326.1 L752.6,325.7 L753.4,325.4 L754.1,325.2 L754.9,325.0 L755.6,324.9 L756.4,324.9 L757.2,324.8 L758.0,324.9 L758.8,325.0 L759.6,325.1 L760.4,325.2 L761.2,325.4 L761.9,325.6 L762.6,325.9 L763.3,326.2 L764.0,326.5 L764.7,326.9 L765.4,327.3 L766.1,327.7 L766.7,328.2 L767.4,328.8 L768.2,329.4 L768.9,330.0 L769.6,330.7 L770.3,331.5 L771.0,332.2 L771.6,333.0 L772.3,333.7 L772.9,334.5 L773.5,335.4 L774.1,336.3 L774.7,337.2 L775.3,338.0 L775.8,338.8 L776.3,339.5 L776.6,340.1 L776.9,340.5 L777.2,341.0 L777.3,341.3 L777.5,341.6 L777.6,341.7 L777.6,341.8 L777.7,341.8 L777.8,341.7 L777.9,341.4 L778.0,341.0 L778.1,340.4 L778.2,339.8 L778.3,339.1 L778.3,338.4 L778.5,337.6 L778.6,336.9 L778.8,336.2 L779.0,335.4 L779.2,334.6 L779.5,333.8 L779.7,333.0 L780.0,332.1 L780.3,331.3 L780.6,330.6 L780.9,329.8 L781.3,329.1 L781.6,328.4 L782.0,327.6 L782.4,326.9 L782.8,326.3 L783.3,325.6 L783.8,325.0 L784.3,324.5 L784.9,323.9 L785.6,323.4 L786.3,323.0 L787.0,322.5 L787.7,322.1 L788.3,321.8 L788.9,321.5 L789.5,321.2 L790.0,320.9 L790.4,320.7 L790.9,320.6 L791.3,320.4 L791.8,320.4 L792.4,320.3 L793.0,320.3 L793.6,320.3 L794.3,320.3 L795.1,320.4 L795.9,320.5 L796.7,320.7 L797.5,320.9 L798.4,321.1 L799.3,321.5 L800.2,321.8 L801.2,322.3 L802.2,322.8 L803.3,323.3 L804.3,323.9 L805.3,324.5 L806.3,325.2 L807.2,325.8 L808.1,326.5 L808.9,327.2 L809.7,328.0 L810.5,328.8 L811.3,329.6 L812.1,330.4 L812.8,331.3 L813.6,332.2 L814.3,333.1 L815.0,334.0 L815.8,335.0 L816.5,336.0 L817.2,337.0 L817.8,338.1 L818.5,339.1 L819.1,340.1 L819.7,341.1 L820.2,342.0 L820.7,343.0 L821.2,343.9 L821.7,344.9 L822.2,345.9 L822.6,346.9 L823.1,348.0 L823.5,349.1 L823.9,350.3 L824.4,351.4 L824.8,352.7 L825.2,353.9 L825.6,355.1 L825.9,356.3 L826.2,357.5 L826.5,358.7 L826.8,359.9 L827.0,361.2 L827.2,362.4 L827.4,363.6 L827.5,364.8 L827.7,365.9 L827.8,367.0 L827.9,368.1 L828.0,369.1 L828.0,370.1 L828.0,371.1 L828.0,372.1 L828.0,373.0 L828.0,373.8 L828.1,374.6 L828.1,375.2 L828.1,375.8 L828.0,376.3 L828.0,376.7 L828.0,377.1 L828.0,377.5 L828.2,378.0 L828.4,378.4 L828.8,378.9 L829.3,379.4 L829.9,380.0 L830.5,380.5 L831.2,381.0 L831.9,381.5 L832.6,382.0 L833.2,382.6 L833.8,383.1 L834.4,383.7 L835.0,384.2 L835.6,384.8 L836.2,385.4 L836.8,386.0 L837.4,386.7 L837.9,387.3 L838.5,388.0 L839.0,388.8 L839.5,389.6 L840.0,390.4 L840.5,391.2 L841.0,392.0 L841.5,392.8 L841.9,393.7 L842.3,394.5 L842.7,395.4 L843.1,396.3 L843.4,397.1 L843.8,398.0 L844.1,398.9 L844.4,399.9 L844.7,400.8 L844.9,401.8 L845.1,402.7 L845.3,403.7 L845.5,404.8 L845.6,405.8 L845.7,406.8 L845.8,407.8 L845.9,408.7 L845.9,409.7 L845.8,410.6 L845.8,411.5 L845.7,412.4 L845.6,413.3 L845.5,414.2 L845.3,415.0 L845.1,415.8 L844.8,416.6 L844.5,417.4 L844.1,418.2 L843.7,418.9 L843.3,419.6 L842.8,420.3 L842.4,420.9 L841.9,421.4 L841.4,421.8 L840.8,422.2 L840.3,422.5 L839.7,422.8 L839.0,423.0 L838.4,423.2 L837.8,423.3 L837.1,423.4 L836.5,423.4 L835.8,423.4 L835.2,423.3 L834.5,423.2 L833.8,423.0 L833.1,422.8 L832.4,422.5 L831.6,422.2 L831.0,421.9 L830.6,421.8 L830.3,421.6 L829.9,421.4 L829.3,421.0 L828.3,420.4 L826.7,419.4 L824.4,418.1 L821.2,416.3 L817.2,414.0 L812.6,411.4 L807.6,408.6 L802.5,405.7 L797.2,402.7 L792.2,399.8 L787.4,397.1 L782.7,394.5 L777.8,391.7 L772.8,388.9 L767.9,386.1 L763.3,383.5 L759.0,381.0 L755.3,378.9 L752.2,377.2 L750.0,376.0 L748.5,375.2 L747.5,374.7 L746.9,374.4 L746.6,374.3 L746.3,374.1 L746.0,373.8Z" fill="#e8fcf9" stroke="#b0f4ea" stroke-width="6.3" clip-path="url(#cl2)"/>
<clipPath id="cl3"><path d="M741.1,520.3 L740.3,519.7 L739.5,519.0 L738.8,518.2 L738.1,517.4 L737.4,516.6 L736.8,515.8 L736.1,514.9 L735.5,514.0 L734.9,513.1 L734.3,512.1 L733.8,511.1 L733.2,510.0 L732.7,509.0 L732.3,508.0 L731.9,507.0 L731.6,506.1 L731.3,505.2 L731.1,504.4 L730.9,503.5 L730.8,502.7 L730.7,501.9 L730.6,501.2 L730.6,500.5 L730.6,499.8 L730.6,499.1 L730.7,498.4 L730.7,497.7 L730.8,497.1 L730.9,496.5 L731.1,496.0 L731.3,495.4 L731.6,495.0 L731.8,494.6 L732.2,494.3 L732.6,494.0 L733.0,493.7 L733.4,493.5 L733.9,493.3 L734.3,493.1 L734.7,493.0 L735.1,493.0 L735.5,492.9 L735.9,492.9 L736.3,493.0 L736.7,493.1 L737.1,493.2 L737.5,493.3 L737.9,493.4 L738.3,493.6 L738.7,493.9 L739.1,494.3 L739.5,494.7 L739.9,495.0 L740.2,495.2 L740.5,495.2 L740.7,495.0 L740.8,494.5 L740.8,493.8 L740.7,493.0 L740.6,492.0 L740.5,491.0 L740.4,489.9 L740.4,488.9 L740.4,487.9 L740.5,486.9 L740.6,485.9 L740.8,484.8 L740.9,483.8 L741.1,482.8 L741.3,481.8 L741.6,480.8 L741.8,479.9 L742.1,479.2 L742.5,478.4 L742.8,477.7 L743.2,477.0 L743.6,476.4 L744.0,475.8 L744.5,475.3 L745.0,474.8 L745.6,474.3 L746.2,473.9 L746.9,473.4 L747.6,473.1 L748.3,472.7 L749.1,472.4 L749.8,472.2 L750.6,472.0 L751.3,471.9 L752.1,471.9 L752.9,471.8 L753.7,471.9 L754.5,472.0 L755.3,472.1 L756.1,472.2 L756.9,472.4 L757.6,472.6 L758.3,472.9 L759.0,473.2 L759.7,473.5 L760.4,473.9 L761.1,474.3 L761.8,474.7 L762.4,475.2 L763.1,475.8 L763.9,476.4 L764.6,477.0 L765.3,477.7 L766.0,478.5 L766.7,479.2 L767.3,480.0 L768.0,480.7 L768.6,481.5 L769.2,482.4 L769.8,483.3 L770.4,484.2 L771.0,485.0 L771.5,485.8 L772.0,486.5 L772.3,487.1 L772.6,487.5 L772.9,488.0 L773.0,488.3 L773.2,488.6 L773.3,488.7 L773.3,488.8 L773.4,488.8 L773.5,488.7 L773.6,488.4 L773.7,488.0 L773.8,487.4 L773.9,486.8 L774.0,486.1 L774.0,485.4 L774.2,484.6 L774.3,483.9 L774.5,483.2 L774.7,482.4 L774.9,481.6 L775.2,480.8 L775.4,480.0 L775.7,479.1 L776.0,478.3 L776.3,477.6 L776.6,476.8 L777.0,476.1 L777.3,475.4 L777.7,474.6 L778.1,473.9 L778.5,473.3 L779.0,472.6 L779.5,472.0 L780.0,471.5 L780.6,470.9 L781.3,470.4 L782.0,470.0 L782.7,469.5 L783.4,469.1 L784.0,468.8 L784.6,468.5 L785.2,468.2 L785.7,467.9 L786.1,467.7 L786.6,467.6 L787.0,467.4 L787.5,467.4 L788.1,467.3 L788.7,467.3 L789.3,467.3 L790.0,467.3 L790.8,467.4 L791.6,467.5 L792.4,467.7 L793.2,467.9 L794.1,468.1 L795.0,468.5 L795.9,468.8 L796.9,469.3 L797.9,469.8 L799.0,470.3 L800.0,470.9 L801.0,471.5 L802.0,472.2 L802.9,472.8 L803.8,473.5 L804.6,474.2 L805.4,475.0 L806.2,475.8 L807.0,476.6 L807.8,477.4 L808.5,478.3 L809.3,479.2 L810.0,480.1 L810.7,481.0 L811.5,482.0 L812.2,483.0 L812.9,484.0 L813.5,485.1 L814.2,486.1 L814.8,487.1 L815.4,488.1 L815.9,489.0 L816.4,490.0 L816.9,490.9 L817.4,491.9 L817.9,492.9 L818.3,493.9 L818.8,495.0 L819.2,496.1 L819.6,497.3 L820.1,498.4 L820.5,499.7 L820.9,500.9 L821.3,502.1 L821.6,503.3 L821.9,504.5 L822.2,505.7 L822.5,506.9 L822.7,508.2 L822.9,509.4 L823.1,510.6 L823.2,511.8 L823.4,512.9 L823.5,514.0 L823.6,515.1 L823.7,516.1 L823.7,517.1 L823.7,518.1 L823.7,519.1 L823.7,520.0 L823.7,520.8 L823.8,521.6 L823.8,522.2 L823.8,522.8 L823.7,523.3 L823.7,523.7 L823.7,524.1 L823.7,524.5 L823.9,525.0 L824.1,525.4 L824.5,525.9 L825.0,526.4 L825.6,527.0 L826.2,527.5 L826.9,528.0 L827.6,528.5 L828.3,529.0 L828.9,529.6 L829.5,530.1 L830.1,530.7 L830.7,531.2 L831.3,531.8 L831.9,532.4 L832.5,533.0 L833.1,533.7 L833.6,534.3 L834.2,535.0 L834.7,535.8 L835.2,536.6 L835.7,537.4 L836.2,538.2 L836.7,539.0 L837.2,539.8 L837.6,540.7 L838.0,541.5 L838.4,542.4 L838.8,543.3 L839.1,544.1 L839.5,545.0 L839.8,545.9 L840.1,546.9 L840.4,547.8 L840.6,548.8 L840.8,549.7 L841.0,550.7 L841.2,551.8 L841.3,552.8 L841.4,553.8 L841.5,554.8 L841.6,555.7 L841.6,556.7 L841.5,557.6 L841.5,558.5 L841.4,559.4 L841.3,560.3 L841.2,561.2 L841.0,562.0 L840.8,562.8 L840.5,563.6 L840.2,564.4 L839.8,565.2 L839.4,565.9 L839.0,566.6 L838.5,567.3 L838.1,567.9 L837.6,568.4 L837.1,568.8 L836.5,569.2 L836.0,569.5 L835.4,569.8 L834.7,570.0 L834.1,570.2 L833.5,570.3 L832.8,570.4 L832.2,570.4 L831.5,570.4 L830.9,570.3 L830.2,570.2 L829.5,570.0 L828.8,569.8 L828.1,569.5 L827.3,569.2 L826.7,568.9 L826.3,568.8 L826.0,568.6 L825.6,568.4 L825.0,568.0 L824.0,567.4 L822.4,566.4 L820.1,565.1 L816.9,563.3 L812.9,561.0 L808.3,558.4 L803.3,555.6 L798.2,552.7 L792.9,549.7 L787.9,546.8 L783.1,544.1 L778.4,541.5 L773.5,538.7 L768.5,535.9 L763.6,533.1 L759.0,530.5 L754.7,528.0 L751.0,525.9 L747.9,524.2 L745.7,523.0 L744.2,522.2 L743.2,521.7 L742.6,521.4 L742.3,521.3 L742.0,521.1 L741.7,520.8Z"/></clipPath>
<path d="M741.1,520.3 L740.3,519.7 L739.5,519.0 L738.8,518.2 L738.1,517.4 L737.4,516.6 L736.8,515.8 L736.1,514.9 L735.5,514.0 L734.9,513.1 L734.3,512.1 L733.8,511.1 L733.2,510.0 L732.7,509.0 L732.3,508.0 L731.9,507.0 L731.6,506.1 L731.3,505.2 L731.1,504.4 L730.9,503.5 L730.8,502.7 L730.7,501.9 L730.6,501.2 L730.6,500.5 L730.6,499.8 L730.6,499.1 L730.7,498.4 L730.7,497.7 L730.8,497.1 L730.9,496.5 L731.1,496.0 L731.3,495.4 L731.6,495.0 L731.8,494.6 L732.2,494.3 L732.6,494.0 L733.0,493.7 L733.4,493.5 L733.9,493.3 L734.3,493.1 L734.7,493.0 L735.1,493.0 L735.5,492.9 L735.9,492.9 L736.3,493.0 L736.7,493.1 L737.1,493.2 L737.5,493.3 L737.9,493.4 L738.3,493.6 L738.7,493.9 L739.1,494.3 L739.5,494.7 L739.9,495.0 L740.2,495.2 L740.5,495.2 L740.7,495.0 L740.8,494.5 L740.8,493.8 L740.7,493.0 L740.6,492.0 L740.5,491.0 L740.4,489.9 L740.4,488.9 L740.4,487.9 L740.5,486.9 L740.6,485.9 L740.8,484.8 L740.9,483.8 L741.1,482.8 L741.3,481.8 L741.6,480.8 L741.8,479.9 L742.1,479.2 L742.5,478.4 L742.8,477.7 L743.2,477.0 L743.6,476.4 L744.0,475.8 L744.5,475.3 L745.0,474.8 L745.6,474.3 L746.2,473.9 L746.9,473.4 L747.6,473.1 L748.3,472.7 L749.1,472.4 L749.8,472.2 L750.6,472.0 L751.3,471.9 L752.1,471.9 L752.9,471.8 L753.7,471.9 L754.5,472.0 L755.3,472.1 L756.1,472.2 L756.9,472.4 L757.6,472.6 L758.3,472.9 L759.0,473.2 L759.7,473.5 L760.4,473.9 L761.1,474.3 L761.8,474.7 L762.4,475.2 L763.1,475.8 L763.9,476.4 L764.6,477.0 L765.3,477.7 L766.0,478.5 L766.7,479.2 L767.3,480.0 L768.0,480.7 L768.6,481.5 L769.2,482.4 L769.8,483.3 L770.4,484.2 L771.0,485.0 L771.5,485.8 L772.0,486.5 L772.3,487.1 L772.6,487.5 L772.9,488.0 L773.0,488.3 L773.2,488.6 L773.3,488.7 L773.3,488.8 L773.4,488.8 L773.5,488.7 L773.6,488.4 L773.7,488.0 L773.8,487.4 L773.9,486.8 L774.0,486.1 L774.0,485.4 L774.2,484.6 L774.3,483.9 L774.5,483.2 L774.7,482.4 L774.9,481.6 L775.2,480.8 L775.4,480.0 L775.7,479.1 L776.0,478.3 L776.3,477.6 L776.6,476.8 L777.0,476.1 L777.3,475.4 L777.7,474.6 L778.1,473.9 L778.5,473.3 L779.0,472.6 L779.5,472.0 L780.0,471.5 L780.6,470.9 L781.3,470.4 L782.0,470.0 L782.7,469.5 L783.4,469.1 L784.0,468.8 L784.6,468.5 L785.2,468.2 L785.7,467.9 L786.1,467.7 L786.6,467.6 L787.0,467.4 L787.5,467.4 L788.1,467.3 L788.7,467.3 L789.3,467.3 L790.0,467.3 L790.8,467.4 L791.6,467.5 L792.4,467.7 L793.2,467.9 L794.1,468.1 L795.0,468.5 L795.9,468.8 L796.9,469.3 L797.9,469.8 L799.0,470.3 L800.0,470.9 L801.0,471.5 L802.0,472.2 L802.9,472.8 L803.8,473.5 L804.6,474.2 L805.4,475.0 L806.2,475.8 L807.0,476.6 L807.8,477.4 L808.5,478.3 L809.3,479.2 L810.0,480.1 L810.7,481.0 L811.5,482.0 L812.2,483.0 L812.9,484.0 L813.5,485.1 L814.2,486.1 L814.8,487.1 L815.4,488.1 L815.9,489.0 L816.4,490.0 L816.9,490.9 L817.4,491.9 L817.9,492.9 L818.3,493.9 L818.8,495.0 L819.2,496.1 L819.6,497.3 L820.1,498.4 L820.5,499.7 L820.9,500.9 L821.3,502.1 L821.6,503.3 L821.9,504.5 L822.2,505.7 L822.5,506.9 L822.7,508.2 L822.9,509.4 L823.1,510.6 L823.2,511.8 L823.4,512.9 L823.5,514.0 L823.6,515.1 L823.7,516.1 L823.7,517.1 L823.7,518.1 L823.7,519.1 L823.7,520.0 L823.7,520.8 L823.8,521.6 L823.8,522.2 L823.8,522.8 L823.7,523.3 L823.7,523.7 L823.7,524.1 L823.7,524.5 L823.9,525.0 L824.1,525.4 L824.5,525.9 L825.0,526.4 L825.6,527.0 L826.2,527.5 L826.9,528.0 L827.6,528.5 L828.3,529.0 L828.9,529.6 L829.5,530.1 L830.1,530.7 L830.7,531.2 L831.3,531.8 L831.9,532.4 L832.5,533.0 L833.1,533.7 L833.6,534.3 L834.2,535.0 L834.7,535.8 L835.2,536.6 L835.7,537.4 L836.2,538.2 L836.7,539.0 L837.2,539.8 L837.6,540.7 L838.0,541.5 L838.4,542.4 L838.8,543.3 L839.1,544.1 L839.5,545.0 L839.8,545.9 L840.1,546.9 L840.4,547.8 L840.6,548.8 L840.8,549.7 L841.0,550.7 L841.2,551.8 L841.3,552.8 L841.4,553.8 L841.5,554.8 L841.6,555.7 L841.6,556.7 L841.5,557.6 L841.5,558.5 L841.4,559.4 L841.3,560.3 L841.2,561.2 L841.0,562.0 L840.8,562.8 L840.5,563.6 L840.2,564.4 L839.8,565.2 L839.4,565.9 L839.0,566.6 L838.5,567.3 L838.1,567.9 L837.6,568.4 L837.1,568.8 L836.5,569.2 L836.0,569.5 L835.4,569.8 L834.7,570.0 L834.1,570.2 L833.5,570.3 L832.8,570.4 L832.2,570.4 L831.5,570.4 L830.9,570.3 L830.2,570.2 L829.5,570.0 L828.8,569.8 L828.1,569.5 L827.3,569.2 L826.7,568.9 L826.3,568.8 L826.0,568.6 L825.6,568.4 L825.0,568.0 L824.0,567.4 L822.4,566.4 L820.1,565.1 L816.9,563.3 L812.9,561.0 L808.3,558.4 L803.3,555.6 L798.2,552.7 L792.9,549.7 L787.9,546.8 L783.1,544.1 L778.4,541.5 L773.5,538.7 L768.5,535.9 L763.6,533.1 L759.0,530.5 L754.7,528.0 L751.0,525.9 L747.9,524.2 L745.7,523.0 L744.2,522.2 L743.2,521.7 L742.6,521.4 L742.3,521.3 L742.0,521.1 L741.7,520.8Z" fill="#e8fcf9" stroke="#b0f4ea" stroke-width="6.3" clip-path="url(#cl3)"/>
<clipPath id="cl4"><path d="M736.4,672.3 L735.6,671.7 L734.8,671.0 L734.1,670.2 L733.4,669.4 L732.7,668.6 L732.1,667.8 L731.4,666.9 L730.8,666.0 L730.2,665.1 L729.6,664.1 L729.1,663.1 L728.5,662.0 L728.0,661.0 L727.6,660.0 L727.2,659.0 L726.9,658.1 L726.6,657.2 L726.4,656.4 L726.2,655.5 L726.1,654.7 L726.0,653.9 L725.9,653.2 L725.9,652.5 L725.9,651.8 L725.9,651.1 L726.0,650.4 L726.0,649.7 L726.1,649.1 L726.2,648.5 L726.4,648.0 L726.6,647.4 L726.9,647.0 L727.1,646.6 L727.5,646.3 L727.9,646.0 L728.3,645.7 L728.7,645.5 L729.2,645.3 L729.6,645.1 L730.0,645.0 L730.4,645.0 L730.8,644.9 L731.2,644.9 L731.6,645.0 L732.0,645.1 L732.4,645.2 L732.8,645.3 L733.2,645.4 L733.6,645.6 L734.0,645.9 L734.4,646.3 L734.8,646.7 L735.2,647.0 L735.5,647.2 L735.8,647.2 L736.0,647.0 L736.1,646.5 L736.1,645.8 L736.0,645.0 L735.9,644.0 L735.8,643.0 L735.7,641.9 L735.7,640.9 L735.7,639.9 L735.8,638.9 L735.9,637.9 L736.1,636.8 L736.2,635.8 L736.4,634.8 L736.6,633.8 L736.9,632.8 L737.1,632.0 L737.4,631.2 L737.8,630.4 L738.1,629.7 L738.5,629.0 L738.9,628.4 L739.3,627.8 L739.8,627.3 L740.3,626.8 L740.9,626.3 L741.5,625.9 L742.2,625.4 L742.9,625.1 L743.6,624.7 L744.4,624.4 L745.1,624.2 L745.9,624.0 L746.6,623.9 L747.4,623.9 L748.2,623.8 L749.0,623.9 L749.8,624.0 L750.6,624.1 L751.4,624.2 L752.2,624.4 L752.9,624.6 L753.6,624.9 L754.3,625.2 L755.0,625.5 L755.7,625.9 L756.4,626.3 L757.1,626.7 L757.7,627.2 L758.4,627.8 L759.2,628.4 L759.9,629.0 L760.6,629.7 L761.3,630.5 L762.0,631.2 L762.6,632.0 L763.3,632.7 L763.9,633.5 L764.5,634.4 L765.1,635.3 L765.7,636.2 L766.3,637.0 L766.8,637.8 L767.3,638.5 L767.6,639.1 L767.9,639.5 L768.2,640.0 L768.3,640.3 L768.5,640.6 L768.6,640.7 L768.6,640.8 L768.7,640.8 L768.8,640.7 L768.9,640.4 L769.0,640.0 L769.1,639.4 L769.2,638.8 L769.3,638.1 L769.3,637.4 L769.5,636.6 L769.6,635.9 L769.8,635.2 L770.0,634.4 L770.2,633.6 L770.5,632.8 L770.7,632.0 L771.0,631.1 L771.3,630.3 L771.6,629.6 L771.9,628.8 L772.3,628.1 L772.6,627.4 L773.0,626.6 L773.4,625.9 L773.8,625.3 L774.3,624.6 L774.8,624.0 L775.3,623.5 L775.9,622.9 L776.6,622.4 L777.3,622.0 L778.0,621.5 L778.7,621.1 L779.3,620.8 L779.9,620.5 L780.5,620.2 L781.0,619.9 L781.4,619.7 L781.9,619.6 L782.3,619.4 L782.8,619.4 L783.4,619.3 L784.0,619.3 L784.6,619.3 L785.3,619.3 L786.1,619.4 L786.9,619.5 L787.7,619.7 L788.5,619.9 L789.4,620.1 L790.3,620.5 L791.2,620.8 L792.2,621.3 L793.2,621.8 L794.3,622.3 L795.3,622.9 L796.3,623.5 L797.3,624.2 L798.2,624.8 L799.1,625.5 L799.9,626.2 L800.7,627.0 L801.5,627.8 L802.3,628.6 L803.1,629.4 L803.8,630.3 L804.6,631.2 L805.3,632.1 L806.0,633.0 L806.8,634.0 L807.5,635.0 L808.2,636.0 L808.8,637.1 L809.5,638.1 L810.1,639.1 L810.7,640.1 L811.2,641.0 L811.7,642.0 L812.2,642.9 L812.7,643.9 L813.2,644.9 L813.6,645.9 L814.1,647.0 L814.5,648.1 L814.9,649.3 L815.4,650.4 L815.8,651.7 L816.2,652.9 L816.6,654.1 L816.9,655.3 L817.2,656.5 L817.5,657.7 L817.8,658.9 L818.0,660.2 L818.2,661.4 L818.4,662.6 L818.5,663.8 L818.7,664.9 L818.8,666.0 L818.9,667.1 L819.0,668.1 L819.0,669.1 L819.0,670.1 L819.0,671.1 L819.0,672.0 L819.0,672.8 L819.1,673.6 L819.1,674.2 L819.1,674.8 L819.0,675.3 L819.0,675.7 L819.0,676.1 L819.0,676.5 L819.2,677.0 L819.4,677.4 L819.8,677.9 L820.3,678.4 L820.9,679.0 L821.5,679.5 L822.2,680.0 L822.9,680.5 L823.6,681.0 L824.2,681.6 L824.8,682.1 L825.4,682.7 L826.0,683.2 L826.6,683.8 L827.2,684.4 L827.8,685.0 L828.4,685.7 L828.9,686.3 L829.5,687.0 L830.0,687.8 L830.5,688.6 L831.0,689.4 L831.5,690.2 L832.0,691.0 L832.5,691.8 L832.9,692.7 L833.3,693.5 L833.7,694.4 L834.1,695.3 L834.4,696.1 L834.8,697.0 L835.1,697.9 L835.4,698.9 L835.7,699.8 L835.9,700.8 L836.1,701.7 L836.3,702.7 L836.5,703.8 L836.6,704.8 L836.7,705.8 L836.8,706.8 L836.9,707.7 L836.9,708.7 L836.8,709.6 L836.8,710.5 L836.7,711.4 L836.6,712.3 L836.5,713.2 L836.3,714.0 L836.1,714.8 L835.8,715.6 L835.5,716.4 L835.1,717.2 L834.7,717.9 L834.3,718.6 L833.8,719.3 L833.4,719.9 L832.9,720.4 L832.4,720.8 L831.8,721.2 L831.3,721.5 L830.7,721.8 L830.0,722.0 L829.4,722.2 L828.8,722.3 L828.1,722.4 L827.5,722.4 L826.8,722.4 L826.2,722.3 L825.5,722.2 L824.8,722.0 L824.1,721.8 L823.4,721.5 L822.6,721.2 L822.0,720.9 L821.6,720.8 L821.3,720.6 L820.9,720.4 L820.3,720.0 L819.3,719.4 L817.7,718.4 L815.4,717.1 L812.2,715.3 L808.2,713.0 L803.6,710.4 L798.6,707.6 L793.5,704.7 L788.2,701.7 L783.2,698.8 L778.4,696.1 L773.7,693.5 L768.8,690.7 L763.8,687.9 L758.9,685.1 L754.3,682.5 L750.0,680.0 L746.3,677.9 L743.2,676.2 L741.0,675.0 L739.5,674.2 L738.5,673.7 L737.9,673.4 L737.6,673.3 L737.3,673.1 L737.0,672.8Z"/></clipPath>
<path d="M736.4,672.3 L735.6,671.7 L734.8,671.0 L734.1,670.2 L733.4,669.4 L732.7,668.6 L732.1,667.8 L731.4,666.9 L730.8,666.0 L730.2,665.1 L729.6,664.1 L729.1,663.1 L728.5,662.0 L728.0,661.0 L727.6,660.0 L727.2,659.0 L726.9,658.1 L726.6,657.2 L726.4,656.4 L726.2,655.5 L726.1,654.7 L726.0,653.9 L725.9,653.2 L725.9,652.5 L725.9,651.8 L725.9,651.1 L726.0,650.4 L726.0,649.7 L726.1,649.1 L726.2,648.5 L726.4,648.0 L726.6,647.4 L726.9,647.0 L727.1,646.6 L727.5,646.3 L727.9,646.0 L728.3,645.7 L728.7,645.5 L729.2,645.3 L729.6,645.1 L730.0,645.0 L730.4,645.0 L730.8,644.9 L731.2,644.9 L731.6,645.0 L732.0,645.1 L732.4,645.2 L732.8,645.3 L733.2,645.4 L733.6,645.6 L734.0,645.9 L734.4,646.3 L734.8,646.7 L735.2,647.0 L735.5,647.2 L735.8,647.2 L736.0,647.0 L736.1,646.5 L736.1,645.8 L736.0,645.0 L735.9,644.0 L735.8,643.0 L735.7,641.9 L735.7,640.9 L735.7,639.9 L735.8,638.9 L735.9,637.9 L736.1,636.8 L736.2,635.8 L736.4,634.8 L736.6,633.8 L736.9,632.8 L737.1,632.0 L737.4,631.2 L737.8,630.4 L738.1,629.7 L738.5,629.0 L738.9,628.4 L739.3,627.8 L739.8,627.3 L740.3,626.8 L740.9,626.3 L741.5,625.9 L742.2,625.4 L742.9,625.1 L743.6,624.7 L744.4,624.4 L745.1,624.2 L745.9,624.0 L746.6,623.9 L747.4,623.9 L748.2,623.8 L749.0,623.9 L749.8,624.0 L750.6,624.1 L751.4,624.2 L752.2,624.4 L752.9,624.6 L753.6,624.9 L754.3,625.2 L755.0,625.5 L755.7,625.9 L756.4,626.3 L757.1,626.7 L757.7,627.2 L758.4,627.8 L759.2,628.4 L759.9,629.0 L760.6,629.7 L761.3,630.5 L762.0,631.2 L762.6,632.0 L763.3,632.7 L763.9,633.5 L764.5,634.4 L765.1,635.3 L765.7,636.2 L766.3,637.0 L766.8,637.8 L767.3,638.5 L767.6,639.1 L767.9,639.5 L768.2,640.0 L768.3,640.3 L768.5,640.6 L768.6,640.7 L768.6,640.8 L768.7,640.8 L768.8,640.7 L768.9,640.4 L769.0,640.0 L769.1,639.4 L769.2,638.8 L769.3,638.1 L769.3,637.4 L769.5,636.6 L769.6,635.9 L769.8,635.2 L770.0,634.4 L770.2,633.6 L770.5,632.8 L770.7,632.0 L771.0,631.1 L771.3,630.3 L771.6,629.6 L771.9,628.8 L772.3,628.1 L772.6,627.4 L773.0,626.6 L773.4,625.9 L773.8,625.3 L774.3,624.6 L774.8,624.0 L775.3,623.5 L775.9,622.9 L776.6,622.4 L777.3,622.0 L778.0,621.5 L778.7,621.1 L779.3,620.8 L779.9,620.5 L780.5,620.2 L781.0,619.9 L781.4,619.7 L781.9,619.6 L782.3,619.4 L782.8,619.4 L783.4,619.3 L784.0,619.3 L784.6,619.3 L785.3,619.3 L786.1,619.4 L786.9,619.5 L787.7,619.7 L788.5,619.9 L789.4,620.1 L790.3,620.5 L791.2,620.8 L792.2,621.3 L793.2,621.8 L794.3,622.3 L795.3,622.9 L796.3,623.5 L797.3,624.2 L798.2,624.8 L799.1,625.5 L799.9,626.2 L800.7,627.0 L801.5,627.8 L802.3,628.6 L803.1,629.4 L803.8,630.3 L804.6,631.2 L805.3,632.1 L806.0,633.0 L806.8,634.0 L807.5,635.0 L808.2,636.0 L808.8,637.1 L809.5,638.1 L810.1,639.1 L810.7,640.1 L811.2,641.0 L811.7,642.0 L812.2,642.9 L812.7,643.9 L813.2,644.9 L813.6,645.9 L814.1,647.0 L814.5,648.1 L814.9,649.3 L815.4,650.4 L815.8,651.7 L816.2,652.9 L816.6,654.1 L816.9,655.3 L817.2,656.5 L817.5,657.7 L817.8,658.9 L818.0,660.2 L818.2,661.4 L818.4,662.6 L818.5,663.8 L818.7,664.9 L818.8,666.0 L818.9,667.1 L819.0,668.1 L819.0,669.1 L819.0,670.1 L819.0,671.1 L819.0,672.0 L819.0,672.8 L819.1,673.6 L819.1,674.2 L819.1,674.8 L819.0,675.3 L819.0,675.7 L819.0,676.1 L819.0,676.5 L819.2,677.0 L819.4,677.4 L819.8,677.9 L820.3,678.4 L820.9,679.0 L821.5,679.5 L822.2,680.0 L822.9,680.5 L823.6,681.0 L824.2,681.6 L824.8,682.1 L825.4,682.7 L826.0,683.2 L826.6,683.8 L827.2,684.4 L827.8,685.0 L828.4,685.7 L828.9,686.3 L829.5,687.0 L830.0,687.8 L830.5,688.6 L831.0,689.4 L831.5,690.2 L832.0,691.0 L832.5,691.8 L832.9,692.7 L833.3,693.5 L833.7,694.4 L834.1,695.3 L834.4,696.1 L834.8,697.0 L835.1,697.9 L835.4,698.9 L835.7,699.8 L835.9,700.8 L836.1,701.7 L836.3,702.7 L836.5,703.8 L836.6,704.8 L836.7,705.8 L836.8,706.8 L836.9,707.7 L836.9,708.7 L836.8,709.6 L836.8,710.5 L836.7,711.4 L836.6,712.3 L836.5,713.2 L836.3,714.0 L836.1,714.8 L835.8,715.6 L835.5,716.4 L835.1,717.2 L834.7,717.9 L834.3,718.6 L833.8,719.3 L833.4,719.9 L832.9,720.4 L832.4,720.8 L831.8,721.2 L831.3,721.5 L830.7,721.8 L830.0,722.0 L829.4,722.2 L828.8,722.3 L828.1,722.4 L827.5,722.4 L826.8,722.4 L826.2,722.3 L825.5,722.2 L824.8,722.0 L824.1,721.8 L823.4,721.5 L822.6,721.2 L822.0,720.9 L821.6,720.8 L821.3,720.6 L820.9,720.4 L820.3,720.0 L819.3,719.4 L817.7,718.4 L815.4,717.1 L812.2,715.3 L808.2,713.0 L803.6,710.4 L798.6,707.6 L793.5,704.7 L788.2,701.7 L783.2,698.8 L778.4,696.1 L773.7,693.5 L768.8,690.7 L763.8,687.9 L758.9,685.1 L754.3,682.5 L750.0,680.0 L746.3,677.9 L743.2,676.2 L741.0,675.0 L739.5,674.2 L738.5,673.7 L737.9,673.4 L737.6,673.3 L737.3,673.1 L737.0,672.8Z" fill="#e8fcf9" stroke="#b0f4ea" stroke-width="6.3" clip-path="url(#cl4)"/>
<polygon fill="#7fe5d6" stroke="#7fe5d6" stroke-width="0.6" points="857.6,430.8 858.8,430.2 860.1,429.6 861.3,429.2 862.5,428.9 863.6,428.7 864.8,428.6 901.3,407.6 900.1,407.7 899.0,407.9 897.8,408.2 896.6,408.6 895.3,409.2 894.1,409.8"/>
<polygon fill="#39d8c5" stroke="#39d8c5" stroke-width="0.6" points="864.8,428.6 865.9,428.7 867.1,428.8 868.2,429.0 869.3,429.3 870.4,429.7 871.5,430.0 872.6,430.6 873.8,431.5 874.9,432.5 876.1,433.6 877.1,434.5 878.1,435.0 878.8,435.1 915.3,414.1 914.6,414.0 913.6,413.5 912.6,412.6 911.4,411.5 910.3,410.5 909.1,409.6 908.0,409.0 906.9,408.7 905.8,408.3 904.7,408.0 903.6,407.8 902.4,407.7 901.3,407.6"/>
<polygon fill="#7fe5d6" stroke="#7fe5d6" stroke-width="0.6" points="897.1,373.3 899.1,372.2 901.1,371.2 903.2,370.4 905.4,369.8 907.5,369.2 909.7,368.9 911.9,368.7 914.2,368.7 916.5,368.8 918.8,369.1 921.1,369.4 923.3,369.9 925.5,370.4 927.6,371.0 929.6,371.7 931.6,372.5 933.5,373.4 935.4,374.4 937.4,375.6 939.3,376.8 941.2,378.2 943.2,379.8 979.7,358.8 977.8,357.2 975.8,355.8 973.9,354.6 971.9,353.4 970.0,352.4 968.1,351.5 966.1,350.7 964.1,350.0 962.0,349.4 959.8,348.9 957.6,348.4 955.3,348.1 953.0,347.8 950.7,347.7 948.4,347.7 946.2,347.9 944.0,348.2 941.9,348.8 939.7,349.4 937.6,350.2 935.6,351.2 933.6,352.3"/>
<polygon fill="#39d8c5" stroke="#39d8c5" stroke-width="0.6" points="943.2,379.8 945.3,381.6 947.3,383.5 949.3,385.5 951.3,387.6 953.3,389.7 955.2,391.9 957.0,394.0 958.8,396.2 960.5,398.7 962.3,401.2 964.0,403.7 965.6,406.1 967.0,408.4 968.3,410.4 969.4,412.0 970.3,413.3 970.9,414.5 971.4,415.5 971.7,416.2 972.0,416.7 972.2,417.0 1008.7,396.0 1008.5,395.7 1008.2,395.2 1007.9,394.5 1007.4,393.5 1006.8,392.3 1005.9,391.0 1004.8,389.4 1003.5,387.4 1002.1,385.1 1000.5,382.7 998.8,380.2 997.0,377.7 995.3,375.2 993.5,373.0 991.7,370.9 989.8,368.7 987.8,366.6 985.8,364.5 983.8,362.5 981.8,360.6 979.7,358.8"/>
<polygon fill="#7fe5d6" stroke="#7fe5d6" stroke-width="0.6" points="972.2,417.0 972.4,416.9 1008.9,395.9 1008.7,396.0"/>
<polygon fill="#39d8c5" stroke="#39d8c5" stroke-width="0.6" points="1159.2,574.1 1160.1,576.6 1161.0,579.2 1161.9,581.8 1162.6,584.5 1163.3,587.2 1163.9,590.0 1164.4,592.9 1164.9,595.8 1165.3,598.6 1165.7,601.5 1165.9,604.3 1166.0,607.0 1166.0,609.7 1166.0,612.3 1165.9,615.0 1165.7,617.5 1165.3,620.1 1164.9,622.6 1164.4,624.9 1163.8,627.2 1163.0,629.5 1162.1,631.7 1161.1,633.9 1160.0,636.0 1158.8,638.0 1157.5,639.9 1156.1,641.5 1154.8,643.0 1153.3,644.2 1151.7,645.3 1188.2,624.3 1189.8,623.2 1191.2,622.0 1192.6,620.5 1194.0,618.9 1195.3,617.0 1196.5,615.0 1197.6,612.9 1198.6,610.7 1199.5,608.5 1200.2,606.2 1200.9,603.9 1201.4,601.6 1201.8,599.1 1202.2,596.5 1202.4,594.0 1202.5,591.3 1202.5,588.7 1202.5,586.0 1202.4,583.3 1202.2,580.5 1201.8,577.6 1201.4,574.8 1200.9,571.9 1200.4,569.0 1199.8,566.2 1199.1,563.5 1198.4,560.8 1197.5,558.2 1196.6,555.6 1195.7,553.1"/>
<polygon fill="#7fe5d6" stroke="#7fe5d6" stroke-width="0.6" points="1115.8,519.7 1116.5,521.0 1117.6,522.4 1119.0,523.8 1120.6,525.3 1122.5,526.7 1124.4,528.2 1126.3,529.7 1128.2,531.2 1130.0,532.8 1131.7,534.3 1133.4,535.9 1135.2,537.5 1136.9,539.1 1138.6,540.8 1140.3,542.5 1141.9,544.3 1143.5,546.2 1145.0,548.3 1146.6,550.4 1148.0,552.6 1149.5,554.8 1150.9,557.1 1152.2,559.5 1153.5,561.9 1154.8,564.2 1155.9,566.7 1157.1,569.1 1158.1,571.6 1159.2,574.1 1195.7,553.1 1194.6,550.6 1193.6,548.1 1192.4,545.7 1191.2,543.2 1190.0,540.9 1188.7,538.5 1187.4,536.1 1186.0,533.8 1184.5,531.6 1183.1,529.4 1181.5,527.3 1180.0,525.2 1178.4,523.3 1176.8,521.5 1175.1,519.8 1173.4,518.1 1171.7,516.5 1169.9,514.9 1168.2,513.3 1166.5,511.8 1164.7,510.2 1162.8,508.7 1160.9,507.2 1159.0,505.7 1157.1,504.3 1155.5,502.8 1154.1,501.4 1153.0,500.0 1152.3,498.7"/>
<polygon fill="#7fe5d6" stroke="#7fe5d6" stroke-width="0.6" points="1000.7,361.0 1002.5,360.0 1004.2,359.1 1005.8,358.3 1007.2,357.6 1008.5,357.1 1009.8,356.6 1011.1,356.2 1012.5,356.0 1014.0,355.8 1015.8,355.8 1017.7,355.8 1019.7,355.9 1021.8,356.1 1024.1,356.4 1026.4,356.9 1028.8,357.5 1031.2,358.2 1033.8,359.1 1036.4,360.2 1039.2,361.4 1042.1,362.8 1045.0,364.4 1047.9,366.0 1050.8,367.8 1053.6,369.6 1056.2,371.5 1058.7,373.5 1061.1,375.5 1063.4,377.6 1065.7,379.9 1067.9,382.2 1070.0,384.6 1072.1,387.0 1074.2,389.5 1076.4,392.1 1078.5,394.8 1080.5,397.6 1082.5,400.5 1084.5,403.4 1086.4,406.3 1088.3,409.2 1090.0,412.0 1091.6,414.8 1093.2,417.5 1094.6,420.2 1096.0,423.0 1132.5,402.0 1131.1,399.2 1129.7,396.5 1128.1,393.8 1126.5,391.0 1124.8,388.2 1122.9,385.3 1121.0,382.4 1119.0,379.5 1117.0,376.6 1115.0,373.8 1112.9,371.1 1110.8,368.5 1108.6,366.0 1106.5,363.6 1104.4,361.2 1102.2,358.9 1099.9,356.6 1097.6,354.5 1095.2,352.5 1092.8,350.5 1090.1,348.6 1087.3,346.8 1084.4,345.0 1081.5,343.4 1078.6,341.8 1075.7,340.4 1072.9,339.2 1070.2,338.1 1067.7,337.2 1065.3,336.5 1062.9,335.9 1060.6,335.4 1058.3,335.1 1056.2,334.9 1054.2,334.8 1052.2,334.8 1050.5,334.8 1049.0,335.0 1047.6,335.2 1046.3,335.6 1045.0,336.1 1043.7,336.6 1042.3,337.3 1040.8,338.1 1039.0,339.0 1037.2,340.0"/>
<polygon fill="#39d8c5" stroke="#39d8c5" stroke-width="0.6" points="1096.0,423.0 1097.4,425.7 1098.7,428.6 1100.0,431.5 1101.2,434.5 1102.5,437.7 1103.8,440.9 1105.0,444.3 1106.2,447.7 1107.3,451.2 1108.4,454.6 1109.4,458.1 1110.2,461.5 1111.1,464.9 1111.8,468.4 1112.4,471.9 1113.0,475.3 1113.5,478.8 1114.0,482.1 1114.4,485.4 1114.8,488.5 1115.0,491.5 1115.2,494.5 1115.3,497.4 1115.3,500.2 1115.4,502.9 1115.4,505.5 1115.4,507.9 1115.5,510.0 1115.5,511.9 1115.4,513.5 1115.3,514.9 1115.2,516.1 1115.2,517.3 1115.4,518.4 1115.8,519.7 1152.3,498.7 1151.9,497.4 1151.7,496.3 1151.7,495.1 1151.8,493.9 1151.9,492.5 1152.0,490.9 1152.0,489.0 1151.9,486.9 1151.9,484.5 1151.9,481.9 1151.8,479.2 1151.8,476.4 1151.7,473.5 1151.5,470.5 1151.2,467.5 1150.9,464.4 1150.5,461.1 1150.0,457.8 1149.5,454.3 1148.9,450.9 1148.3,447.4 1147.6,443.9 1146.8,440.5 1145.9,437.1 1144.9,433.6 1143.8,430.2 1142.7,426.7 1141.5,423.3 1140.3,419.9 1139.0,416.7 1137.8,413.5 1136.5,410.5 1135.2,407.6 1133.9,404.7 1132.5,402.0"/>
<clipPath id="clb"><path d="M880.5,506.5 L878.3,504.6 L876.2,502.6 L874.1,500.5 L872.1,498.2 L870.2,495.9 L868.3,493.5 L866.5,491.0 L864.8,488.5 L863.1,485.9 L861.4,483.1 L859.8,480.2 L858.3,477.2 L856.9,474.3 L855.6,471.4 L854.5,468.6 L853.5,466.0 L852.7,463.5 L852.1,461.1 L851.6,458.7 L851.3,456.4 L851.0,454.2 L850.9,452.1 L850.8,450.0 L850.8,448.0 L850.8,446.0 L850.9,444.1 L851.1,442.3 L851.4,440.5 L851.8,438.8 L852.3,437.2 L852.8,435.8 L853.5,434.5 L854.3,433.4 L855.3,432.4 L856.4,431.5 L857.6,430.8 L858.8,430.2 L860.1,429.6 L861.3,429.2 L862.5,428.9 L863.6,428.7 L864.8,428.6 L865.9,428.7 L867.1,428.8 L868.2,429.0 L869.3,429.3 L870.4,429.7 L871.5,430.0 L872.6,430.6 L873.8,431.5 L874.9,432.5 L876.1,433.6 L877.1,434.5 L878.1,435.0 L878.8,435.1 L879.4,434.5 L879.7,433.2 L879.7,431.2 L879.6,428.8 L879.3,426.1 L879.0,423.1 L878.7,420.1 L878.6,417.1 L878.7,414.2 L878.9,411.5 L879.3,408.6 L879.7,405.6 L880.1,402.7 L880.7,399.7 L881.3,396.9 L882.0,394.2 L882.8,391.8 L883.6,389.5 L884.5,387.4 L885.5,385.4 L886.5,383.5 L887.7,381.8 L888.9,380.1 L890.3,378.6 L891.8,377.1 L893.4,375.7 L895.2,374.4 L897.1,373.3 L899.1,372.2 L901.1,371.2 L903.2,370.4 L905.4,369.8 L907.5,369.2 L909.7,368.9 L911.9,368.7 L914.2,368.7 L916.5,368.8 L918.8,369.1 L921.1,369.4 L923.3,369.9 L925.5,370.4 L927.6,371.0 L929.6,371.7 L931.6,372.5 L933.5,373.4 L935.4,374.4 L937.4,375.6 L939.3,376.8 L941.2,378.2 L943.2,379.8 L945.3,381.6 L947.3,383.5 L949.3,385.5 L951.3,387.6 L953.3,389.7 L955.2,391.9 L957.0,394.0 L958.8,396.2 L960.5,398.7 L962.3,401.2 L964.0,403.7 L965.6,406.1 L967.0,408.4 L968.3,410.4 L969.4,412.0 L970.3,413.3 L970.9,414.5 L971.4,415.5 L971.7,416.2 L972.0,416.7 L972.2,417.0 L972.4,416.9 L972.8,416.5 L973.1,415.7 L973.3,414.5 L973.5,413.0 L973.7,411.2 L974.0,409.2 L974.2,407.1 L974.6,405.0 L975.0,403.0 L975.5,400.9 L976.1,398.8 L976.7,396.5 L977.4,394.1 L978.1,391.8 L978.9,389.4 L979.7,387.2 L980.6,385.0 L981.5,382.9 L982.5,380.8 L983.5,378.7 L984.5,376.6 L985.7,374.6 L986.9,372.7 L988.2,370.9 L989.6,369.2 L991.2,367.7 L992.9,366.2 L994.8,364.7 L996.8,363.4 L998.7,362.2 L1000.7,361.0 L1002.5,360.0 L1004.2,359.1 L1005.8,358.3 L1007.2,357.6 L1008.5,357.1 L1009.8,356.6 L1011.1,356.2 L1012.5,356.0 L1014.0,355.8 L1015.8,355.8 L1017.7,355.8 L1019.7,355.9 L1021.8,356.1 L1024.1,356.4 L1026.4,356.9 L1028.8,357.5 L1031.2,358.2 L1033.8,359.1 L1036.4,360.2 L1039.2,361.4 L1042.1,362.8 L1045.0,364.4 L1047.9,366.0 L1050.8,367.8 L1053.6,369.6 L1056.2,371.5 L1058.7,373.5 L1061.1,375.5 L1063.4,377.6 L1065.7,379.9 L1067.9,382.2 L1070.0,384.6 L1072.1,387.0 L1074.2,389.5 L1076.4,392.1 L1078.5,394.8 L1080.5,397.6 L1082.5,400.5 L1084.5,403.4 L1086.4,406.3 L1088.3,409.2 L1090.0,412.0 L1091.6,414.8 L1093.2,417.5 L1094.6,420.2 L1096.0,423.0 L1097.4,425.7 L1098.7,428.6 L1100.0,431.5 L1101.2,434.5 L1102.5,437.7 L1103.8,440.9 L1105.0,444.3 L1106.2,447.7 L1107.3,451.2 L1108.4,454.6 L1109.4,458.1 L1110.2,461.5 L1111.1,464.9 L1111.8,468.4 L1112.4,471.9 L1113.0,475.3 L1113.5,478.8 L1114.0,482.1 L1114.4,485.4 L1114.8,488.5 L1115.0,491.5 L1115.2,494.5 L1115.3,497.4 L1115.3,500.2 L1115.4,502.9 L1115.4,505.5 L1115.4,507.9 L1115.5,510.0 L1115.5,511.9 L1115.4,513.5 L1115.3,514.9 L1115.2,516.1 L1115.2,517.3 L1115.4,518.4 L1115.8,519.7 L1116.5,521.0 L1117.6,522.4 L1119.0,523.8 L1120.6,525.3 L1122.5,526.7 L1124.4,528.2 L1126.3,529.7 L1128.2,531.2 L1130.0,532.8 L1131.7,534.3 L1133.4,535.9 L1135.2,537.5 L1136.9,539.1 L1138.6,540.8 L1140.3,542.5 L1141.9,544.3 L1143.5,546.2 L1145.0,548.3 L1146.6,550.4 L1148.0,552.6 L1149.5,554.8 L1150.9,557.1 L1152.2,559.5 L1153.5,561.9 L1154.8,564.2 L1155.9,566.7 L1157.1,569.1 L1158.1,571.6 L1159.2,574.1 L1160.1,576.6 L1161.0,579.2 L1161.9,581.8 L1162.6,584.5 L1163.3,587.2 L1163.9,590.0 L1164.4,592.9 L1164.9,595.8 L1165.3,598.6 L1165.7,601.5 L1165.9,604.3 L1166.0,607.0 L1166.0,609.7 L1166.0,612.3 L1165.9,615.0 L1165.7,617.5 L1165.3,620.1 L1164.9,622.6 L1164.4,624.9 L1163.8,627.2 L1163.0,629.5 L1162.1,631.7 L1161.1,633.9 L1160.0,636.0 L1158.8,638.0 L1157.5,639.9 L1156.1,641.5 L1154.8,643.0 L1153.3,644.2 L1151.7,645.3 L1150.1,646.2 L1148.4,647.0 L1146.7,647.6 L1144.9,648.1 L1143.1,648.4 L1141.2,648.6 L1139.4,648.7 L1137.6,648.6 L1135.7,648.4 L1133.8,648.0 L1131.9,647.5 L1129.8,646.9 L1127.7,646.1 L1125.5,645.2 L1123.7,644.5 L1122.7,644.0 L1121.9,643.6 L1120.8,642.9 L1119.1,641.8 L1116.2,640.1 L1111.6,637.4 L1105.0,633.6 L1095.9,628.4 L1084.6,622.0 L1071.6,614.7 L1057.5,606.7 L1042.7,598.3 L1027.9,589.9 L1013.5,581.7 L1000.0,574.1 L986.7,566.6 L972.8,558.7 L958.6,550.7 L944.7,542.8 L931.4,535.3 L919.2,528.4 L908.6,522.4 L900.0,517.5 L893.7,514.0 L889.4,511.7 L886.6,510.3 L885.0,509.6 L884.0,509.1 L883.2,508.7 L882.2,507.9Z"/></clipPath>
<path d="M880.5,506.5 L878.3,504.6 L876.2,502.6 L874.1,500.5 L872.1,498.2 L870.2,495.9 L868.3,493.5 L866.5,491.0 L864.8,488.5 L863.1,485.9 L861.4,483.1 L859.8,480.2 L858.3,477.2 L856.9,474.3 L855.6,471.4 L854.5,468.6 L853.5,466.0 L852.7,463.5 L852.1,461.1 L851.6,458.7 L851.3,456.4 L851.0,454.2 L850.9,452.1 L850.8,450.0 L850.8,448.0 L850.8,446.0 L850.9,444.1 L851.1,442.3 L851.4,440.5 L851.8,438.8 L852.3,437.2 L852.8,435.8 L853.5,434.5 L854.3,433.4 L855.3,432.4 L856.4,431.5 L857.6,430.8 L858.8,430.2 L860.1,429.6 L861.3,429.2 L862.5,428.9 L863.6,428.7 L864.8,428.6 L865.9,428.7 L867.1,428.8 L868.2,429.0 L869.3,429.3 L870.4,429.7 L871.5,430.0 L872.6,430.6 L873.8,431.5 L874.9,432.5 L876.1,433.6 L877.1,434.5 L878.1,435.0 L878.8,435.1 L879.4,434.5 L879.7,433.2 L879.7,431.2 L879.6,428.8 L879.3,426.1 L879.0,423.1 L878.7,420.1 L878.6,417.1 L878.7,414.2 L878.9,411.5 L879.3,408.6 L879.7,405.6 L880.1,402.7 L880.7,399.7 L881.3,396.9 L882.0,394.2 L882.8,391.8 L883.6,389.5 L884.5,387.4 L885.5,385.4 L886.5,383.5 L887.7,381.8 L888.9,380.1 L890.3,378.6 L891.8,377.1 L893.4,375.7 L895.2,374.4 L897.1,373.3 L899.1,372.2 L901.1,371.2 L903.2,370.4 L905.4,369.8 L907.5,369.2 L909.7,368.9 L911.9,368.7 L914.2,368.7 L916.5,368.8 L918.8,369.1 L921.1,369.4 L923.3,369.9 L925.5,370.4 L927.6,371.0 L929.6,371.7 L931.6,372.5 L933.5,373.4 L935.4,374.4 L937.4,375.6 L939.3,376.8 L941.2,378.2 L943.2,379.8 L945.3,381.6 L947.3,383.5 L949.3,385.5 L951.3,387.6 L953.3,389.7 L955.2,391.9 L957.0,394.0 L958.8,396.2 L960.5,398.7 L962.3,401.2 L964.0,403.7 L965.6,406.1 L967.0,408.4 L968.3,410.4 L969.4,412.0 L970.3,413.3 L970.9,414.5 L971.4,415.5 L971.7,416.2 L972.0,416.7 L972.2,417.0 L972.4,416.9 L972.8,416.5 L973.1,415.7 L973.3,414.5 L973.5,413.0 L973.7,411.2 L974.0,409.2 L974.2,407.1 L974.6,405.0 L975.0,403.0 L975.5,400.9 L976.1,398.8 L976.7,396.5 L977.4,394.1 L978.1,391.8 L978.9,389.4 L979.7,387.2 L980.6,385.0 L981.5,382.9 L982.5,380.8 L983.5,378.7 L984.5,376.6 L985.7,374.6 L986.9,372.7 L988.2,370.9 L989.6,369.2 L991.2,367.7 L992.9,366.2 L994.8,364.7 L996.8,363.4 L998.7,362.2 L1000.7,361.0 L1002.5,360.0 L1004.2,359.1 L1005.8,358.3 L1007.2,357.6 L1008.5,357.1 L1009.8,356.6 L1011.1,356.2 L1012.5,356.0 L1014.0,355.8 L1015.8,355.8 L1017.7,355.8 L1019.7,355.9 L1021.8,356.1 L1024.1,356.4 L1026.4,356.9 L1028.8,357.5 L1031.2,358.2 L1033.8,359.1 L1036.4,360.2 L1039.2,361.4 L1042.1,362.8 L1045.0,364.4 L1047.9,366.0 L1050.8,367.8 L1053.6,369.6 L1056.2,371.5 L1058.7,373.5 L1061.1,375.5 L1063.4,377.6 L1065.7,379.9 L1067.9,382.2 L1070.0,384.6 L1072.1,387.0 L1074.2,389.5 L1076.4,392.1 L1078.5,394.8 L1080.5,397.6 L1082.5,400.5 L1084.5,403.4 L1086.4,406.3 L1088.3,409.2 L1090.0,412.0 L1091.6,414.8 L1093.2,417.5 L1094.6,420.2 L1096.0,423.0 L1097.4,425.7 L1098.7,428.6 L1100.0,431.5 L1101.2,434.5 L1102.5,437.7 L1103.8,440.9 L1105.0,444.3 L1106.2,447.7 L1107.3,451.2 L1108.4,454.6 L1109.4,458.1 L1110.2,461.5 L1111.1,464.9 L1111.8,468.4 L1112.4,471.9 L1113.0,475.3 L1113.5,478.8 L1114.0,482.1 L1114.4,485.4 L1114.8,488.5 L1115.0,491.5 L1115.2,494.5 L1115.3,497.4 L1115.3,500.2 L1115.4,502.9 L1115.4,505.5 L1115.4,507.9 L1115.5,510.0 L1115.5,511.9 L1115.4,513.5 L1115.3,514.9 L1115.2,516.1 L1115.2,517.3 L1115.4,518.4 L1115.8,519.7 L1116.5,521.0 L1117.6,522.4 L1119.0,523.8 L1120.6,525.3 L1122.5,526.7 L1124.4,528.2 L1126.3,529.7 L1128.2,531.2 L1130.0,532.8 L1131.7,534.3 L1133.4,535.9 L1135.2,537.5 L1136.9,539.1 L1138.6,540.8 L1140.3,542.5 L1141.9,544.3 L1143.5,546.2 L1145.0,548.3 L1146.6,550.4 L1148.0,552.6 L1149.5,554.8 L1150.9,557.1 L1152.2,559.5 L1153.5,561.9 L1154.8,564.2 L1155.9,566.7 L1157.1,569.1 L1158.1,571.6 L1159.2,574.1 L1160.1,576.6 L1161.0,579.2 L1161.9,581.8 L1162.6,584.5 L1163.3,587.2 L1163.9,590.0 L1164.4,592.9 L1164.9,595.8 L1165.3,598.6 L1165.7,601.5 L1165.9,604.3 L1166.0,607.0 L1166.0,609.7 L1166.0,612.3 L1165.9,615.0 L1165.7,617.5 L1165.3,620.1 L1164.9,622.6 L1164.4,624.9 L1163.8,627.2 L1163.0,629.5 L1162.1,631.7 L1161.1,633.9 L1160.0,636.0 L1158.8,638.0 L1157.5,639.9 L1156.1,641.5 L1154.8,643.0 L1153.3,644.2 L1151.7,645.3 L1150.1,646.2 L1148.4,647.0 L1146.7,647.6 L1144.9,648.1 L1143.1,648.4 L1141.2,648.6 L1139.4,648.7 L1137.6,648.6 L1135.7,648.4 L1133.8,648.0 L1131.9,647.5 L1129.8,646.9 L1127.7,646.1 L1125.5,645.2 L1123.7,644.5 L1122.7,644.0 L1121.9,643.6 L1120.8,642.9 L1119.1,641.8 L1116.2,640.1 L1111.6,637.4 L1105.0,633.6 L1095.9,628.4 L1084.6,622.0 L1071.6,614.7 L1057.5,606.7 L1042.7,598.3 L1027.9,589.9 L1013.5,581.7 L1000.0,574.1 L986.7,566.6 L972.8,558.7 L958.6,550.7 L944.7,542.8 L931.4,535.3 L919.2,528.4 L908.6,522.4 L900.0,517.5 L893.7,514.0 L889.4,511.7 L886.6,510.3 L885.0,509.6 L884.0,509.1 L883.2,508.7 L882.2,507.9Z" fill="#e8fcf9" stroke="#b0f4ea" stroke-width="18.0" clip-path="url(#clb)"/>
<rect x="385" y="77" width="784" height="77.5" rx="12" fill="#2ec6a2" stroke="#26a3aa" stroke-width="1.2"/>
<rect x="377.8" y="69.5" width="784.5" height="77.5" rx="12" fill="#b2fcf3" stroke="#1d8c91" stroke-width="1.1"/>
<text x="398.0" y="122.8" font-size="34.9" textLength="742.0" lengthAdjust="spacingAndGlyphs" fill="#177b81" stroke="#177b81" stroke-width="0.91" >Various Use Cases of 5G Enterprise Network Slicing</text>
<circle cx="1073.8" cy="69" r="12.6" fill="#7ef4c6" stroke="#1b8489" stroke-width="1"/><circle cx="1073.8" cy="69" r="6.7" fill="#1c7f86"/>
<circle cx="1106" cy="69" r="12.3" fill="#ffffff" stroke="#1b8489" stroke-width="1"/><rect x="1097.8" y="66" width="16.5" height="6" fill="#1c7f86"/>
<circle cx="1138.6" cy="69" r="12.3" fill="#ffffff" stroke="#1b8489" stroke-width="1"/><rect x="1130.1" y="66" width="17" height="6" fill="#1c7f86"/><rect x="1135.6" y="60.5" width="6" height="17" fill="#1c7f86"/>
<rect x="0" y="0" width="1200" height="37" fill="#ffffff"/>
<rect x="0" y="760" width="1200" height="40" fill="#ffffff"/>
</svg></body></html>
